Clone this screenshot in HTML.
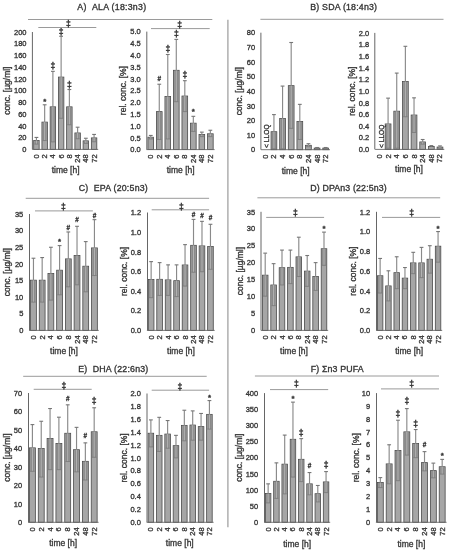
<!DOCTYPE html>
<html><head><meta charset="utf-8"><style>
html,body{margin:0;padding:0;background:#fff;}
svg{display:block;}
text{font-family:"Liberation Sans", Arial, sans-serif;stroke:#383838;stroke-width:0.34px;}
</style></head><body>
<svg width="450" height="550" viewBox="0 0 450 550">
<rect width="450" height="550" fill="#fff"/>
<line x1="227.9" y1="19.7" x2="227.9" y2="527.3" stroke="#a2a2a2" stroke-width="1.3"/>
<line x1="28" y1="19.5" x2="212.3" y2="19.5" stroke="#9a9a9a" stroke-width="1"/>
<text x="77.3" y="10.3" font-size="8.8" fill="#303030" textLength="68.8" lengthAdjust="spacing">A)  ALA (18:3n3)</text>
<line x1="260.4" y1="19.3" x2="443.5" y2="19.3" stroke="#9a9a9a" stroke-width="1"/>
<text x="310.3" y="10.2" font-size="8.8" fill="#303030" textLength="66.7" lengthAdjust="spacing">B) SDA (18:4n3)</text>
<line x1="25.7" y1="198.3" x2="209.1" y2="198.3" stroke="#9a9a9a" stroke-width="1"/>
<text x="78.7" y="191" font-size="8.8" fill="#303030" textLength="69.1" lengthAdjust="spacing">C)  EPA (20:5n3)</text>
<line x1="257.4" y1="197.8" x2="440.2" y2="197.8" stroke="#9a9a9a" stroke-width="1"/>
<text x="310.3" y="191" font-size="8.8" fill="#303030" textLength="76.5" lengthAdjust="spacing">D) DPAn3 (22:5n3)</text>
<line x1="23.2" y1="376.3" x2="206.7" y2="376.3" stroke="#9a9a9a" stroke-width="1"/>
<text x="78.2" y="372.2" font-size="8.8" fill="#303030" textLength="70.1" lengthAdjust="spacing">E)  DHA (22:6n3)</text>
<line x1="254.9" y1="376" x2="439" y2="376" stroke="#9a9a9a" stroke-width="1"/>
<text x="310.8" y="372.2" font-size="8.8" fill="#303030" textLength="52.8" lengthAdjust="spacing">F) Σn3 PUFA</text>
<text x="26.5" y="152.1" font-size="7.5" text-anchor="end" fill="#383838">0</text>
<text x="26.5" y="140.36" font-size="7.5" text-anchor="end" fill="#383838">20</text>
<text x="26.5" y="128.62" font-size="7.5" text-anchor="end" fill="#383838">40</text>
<text x="26.5" y="116.88" font-size="7.5" text-anchor="end" fill="#383838">60</text>
<text x="26.5" y="105.14" font-size="7.5" text-anchor="end" fill="#383838">80</text>
<text x="26.5" y="93.4" font-size="7.5" text-anchor="end" fill="#383838">100</text>
<text x="26.5" y="81.66" font-size="7.5" text-anchor="end" fill="#383838">120</text>
<text x="26.5" y="69.92" font-size="7.5" text-anchor="end" fill="#383838">140</text>
<text x="26.5" y="58.18" font-size="7.5" text-anchor="end" fill="#383838">160</text>
<text x="26.5" y="46.44" font-size="7.5" text-anchor="end" fill="#383838">180</text>
<text x="26.5" y="34.7" font-size="7.5" text-anchor="end" fill="#383838">200</text>
<text transform="translate(38.92,154.4) rotate(-90)" font-size="7.5" text-anchor="end" fill="#383838">0</text>
<rect x="33.69" y="140.42" width="5.46" height="8.98" fill="#a6a6a6" stroke="#4a4a4a" stroke-width="0.8"/>
<rect x="34.59" y="140.82" width="3.66" height="3.3" fill="#8a8a8a"/>
<line x1="36.42" y1="140.42" x2="36.42" y2="144.12" stroke="#b8b8b8" stroke-width="0.9"/>
<line x1="34.29" y1="144.12" x2="38.55" y2="144.12" stroke="#7a7a7a" stroke-width="0.8"/>
<line x1="36.42" y1="137.43" x2="36.42" y2="140.42" stroke="#8a8a8a" stroke-width="1.15"/>
<line x1="34.52" y1="137.43" x2="38.32" y2="137.43" stroke="#767676" stroke-width="1.1"/>
<text transform="translate(47.16,154.4) rotate(-90)" font-size="7.5" text-anchor="end" fill="#383838">2</text>
<rect x="41.93" y="122.1" width="5.46" height="27.3" fill="#a6a6a6" stroke="#4a4a4a" stroke-width="0.8"/>
<rect x="42.83" y="122.5" width="3.66" height="18.03" fill="#8a8a8a"/>
<line x1="44.66" y1="122.1" x2="44.66" y2="140.54" stroke="#b8b8b8" stroke-width="0.9"/>
<line x1="42.53" y1="140.54" x2="46.79" y2="140.54" stroke="#7a7a7a" stroke-width="0.8"/>
<line x1="44.66" y1="104.79" x2="44.66" y2="122.1" stroke="#8a8a8a" stroke-width="1.15"/>
<line x1="42.76" y1="104.79" x2="46.56" y2="104.79" stroke="#767676" stroke-width="1.1"/>
<text x="44.66" y="104.32" font-size="7.8" text-anchor="middle" fill="#303030" font-weight="bold">*</text>
<text transform="translate(55.39,154.4) rotate(-90)" font-size="7.5" text-anchor="end" fill="#383838">4</text>
<rect x="50.16" y="106.84" width="5.46" height="42.56" fill="#a6a6a6" stroke="#4a4a4a" stroke-width="0.8"/>
<rect x="51.06" y="107.24" width="3.66" height="34.64" fill="#8a8a8a"/>
<line x1="52.89" y1="106.84" x2="52.89" y2="141.89" stroke="#b8b8b8" stroke-width="0.9"/>
<line x1="50.76" y1="141.89" x2="55.02" y2="141.89" stroke="#7a7a7a" stroke-width="0.8"/>
<line x1="52.89" y1="71.33" x2="52.89" y2="106.84" stroke="#8a8a8a" stroke-width="1.15"/>
<line x1="50.99" y1="71.33" x2="54.79" y2="71.33" stroke="#767676" stroke-width="1.1"/>
<text x="52.89" y="69.33" font-size="8.6" text-anchor="middle" fill="#303030" font-weight="bold">‡</text>
<text transform="translate(63.63,154.4) rotate(-90)" font-size="7.5" text-anchor="end" fill="#383838">6</text>
<rect x="58.4" y="77.08" width="5.46" height="72.32" fill="#a6a6a6" stroke="#4a4a4a" stroke-width="0.8"/>
<rect x="59.3" y="77.48" width="3.66" height="40.81" fill="#8a8a8a"/>
<line x1="61.13" y1="77.08" x2="61.13" y2="118.29" stroke="#b8b8b8" stroke-width="0.9"/>
<line x1="59" y1="118.29" x2="63.26" y2="118.29" stroke="#7a7a7a" stroke-width="0.8"/>
<line x1="61.13" y1="36.29" x2="61.13" y2="77.08" stroke="#8a8a8a" stroke-width="1.15"/>
<line x1="59.23" y1="36.29" x2="63.03" y2="36.29" stroke="#767676" stroke-width="1.1"/>
<text x="61.13" y="34.73" font-size="8.6" text-anchor="middle" fill="#303030" font-weight="bold">‡</text>
<text transform="translate(71.87,154.4) rotate(-90)" font-size="7.5" text-anchor="end" fill="#383838">8</text>
<rect x="66.64" y="106.84" width="5.46" height="42.56" fill="#a6a6a6" stroke="#4a4a4a" stroke-width="0.8"/>
<rect x="67.54" y="107.24" width="3.66" height="17.5" fill="#8a8a8a"/>
<line x1="69.37" y1="106.84" x2="69.37" y2="124.75" stroke="#b8b8b8" stroke-width="0.9"/>
<line x1="67.24" y1="124.75" x2="71.5" y2="124.75" stroke="#7a7a7a" stroke-width="0.8"/>
<line x1="69.37" y1="89.53" x2="69.37" y2="106.84" stroke="#8a8a8a" stroke-width="1.15"/>
<line x1="67.47" y1="89.53" x2="71.27" y2="89.53" stroke="#767676" stroke-width="1.1"/>
<text x="69.37" y="87.93" font-size="8.6" text-anchor="middle" fill="#303030" font-weight="bold">‡</text>
<text transform="translate(80.11,154.4) rotate(-90)" font-size="7.5" text-anchor="end" fill="#383838">24</text>
<rect x="74.88" y="132.96" width="5.46" height="16.44" fill="#a6a6a6" stroke="#4a4a4a" stroke-width="0.8"/>
<rect x="75.78" y="133.36" width="3.66" height="5.35" fill="#8a8a8a"/>
<line x1="77.61" y1="132.96" x2="77.61" y2="138.72" stroke="#b8b8b8" stroke-width="0.9"/>
<line x1="75.48" y1="138.72" x2="79.74" y2="138.72" stroke="#7a7a7a" stroke-width="0.8"/>
<line x1="77.61" y1="127.21" x2="77.61" y2="132.96" stroke="#8a8a8a" stroke-width="1.15"/>
<line x1="75.71" y1="127.21" x2="79.51" y2="127.21" stroke="#767676" stroke-width="1.1"/>
<text transform="translate(88.34,154.4) rotate(-90)" font-size="7.5" text-anchor="end" fill="#383838">48</text>
<rect x="83.11" y="140.83" width="5.46" height="8.57" fill="#a6a6a6" stroke="#4a4a4a" stroke-width="0.8"/>
<rect x="84.01" y="141.23" width="3.66" height="2.18" fill="#8a8a8a"/>
<line x1="85.84" y1="140.83" x2="85.84" y2="143.41" stroke="#b8b8b8" stroke-width="0.9"/>
<line x1="83.71" y1="143.41" x2="87.97" y2="143.41" stroke="#7a7a7a" stroke-width="0.8"/>
<line x1="85.84" y1="138.25" x2="85.84" y2="140.83" stroke="#8a8a8a" stroke-width="1.15"/>
<line x1="83.94" y1="138.25" x2="87.74" y2="138.25" stroke="#767676" stroke-width="1.1"/>
<text transform="translate(96.58,154.4) rotate(-90)" font-size="7.5" text-anchor="end" fill="#383838">72</text>
<rect x="91.35" y="137.89" width="5.46" height="11.51" fill="#a6a6a6" stroke="#4a4a4a" stroke-width="0.8"/>
<rect x="92.25" y="138.29" width="3.66" height="3.47" fill="#8a8a8a"/>
<line x1="94.08" y1="137.89" x2="94.08" y2="141.77" stroke="#b8b8b8" stroke-width="0.9"/>
<line x1="91.95" y1="141.77" x2="96.21" y2="141.77" stroke="#7a7a7a" stroke-width="0.8"/>
<line x1="94.08" y1="134.43" x2="94.08" y2="137.89" stroke="#8a8a8a" stroke-width="1.15"/>
<line x1="92.18" y1="134.43" x2="95.98" y2="134.43" stroke="#767676" stroke-width="1.1"/>
<line x1="32.4" y1="32" x2="32.4" y2="149.4" stroke="#666666" stroke-width="1"/>
<line x1="32.3" y1="149.4" x2="98.2" y2="149.4" stroke="#6a6a6a" stroke-width="0.9"/>
<line x1="38.3" y1="27.5" x2="96.3" y2="27.5" stroke="#9a9a9a" stroke-width="1"/>
<text x="68.4" y="27.03" font-size="8.6" text-anchor="middle" fill="#303030" font-weight="bold">‡</text>
<text transform="translate(9.6,90.7) rotate(-90)" font-size="8.5" text-anchor="middle" fill="#383838">conc. [µg/ml]</text>
<text x="65.6" y="173.3" font-size="8.5" text-anchor="middle" fill="#383838">time [h]</text>
<text x="140.7" y="152.3" font-size="7.5" text-anchor="end" fill="#383838">0.0</text>
<text x="140.7" y="140.5" font-size="7.5" text-anchor="end" fill="#383838">0.5</text>
<text x="140.7" y="128.7" font-size="7.5" text-anchor="end" fill="#383838">1.0</text>
<text x="140.7" y="116.9" font-size="7.5" text-anchor="end" fill="#383838">1.5</text>
<text x="140.7" y="105.1" font-size="7.5" text-anchor="end" fill="#383838">2.0</text>
<text x="140.7" y="93.3" font-size="7.5" text-anchor="end" fill="#383838">2.5</text>
<text x="140.7" y="81.5" font-size="7.5" text-anchor="end" fill="#383838">3.0</text>
<text x="140.7" y="69.7" font-size="7.5" text-anchor="end" fill="#383838">3.5</text>
<text x="140.7" y="57.9" font-size="7.5" text-anchor="end" fill="#383838">4.0</text>
<text x="140.7" y="46.1" font-size="7.5" text-anchor="end" fill="#383838">4.5</text>
<text x="140.7" y="34.3" font-size="7.5" text-anchor="end" fill="#383838">5.0</text>
<text transform="translate(153.26,154.6) rotate(-90)" font-size="7.5" text-anchor="end" fill="#383838">0</text>
<rect x="147.92" y="137.21" width="5.67" height="12.39" fill="#a6a6a6" stroke="#4a4a4a" stroke-width="0.8"/>
<rect x="148.82" y="137.61" width="3.87" height="1.37" fill="#8a8a8a"/>
<line x1="150.76" y1="137.21" x2="150.76" y2="138.98" stroke="#b8b8b8" stroke-width="0.9"/>
<line x1="148.52" y1="138.98" x2="152.99" y2="138.98" stroke="#7a7a7a" stroke-width="0.8"/>
<line x1="150.76" y1="135.44" x2="150.76" y2="137.21" stroke="#8a8a8a" stroke-width="1.15"/>
<line x1="148.86" y1="135.44" x2="152.66" y2="135.44" stroke="#767676" stroke-width="1.1"/>
<text transform="translate(161.77,154.6) rotate(-90)" font-size="7.5" text-anchor="end" fill="#383838">2</text>
<rect x="156.43" y="111.6" width="5.67" height="38" fill="#a6a6a6" stroke="#4a4a4a" stroke-width="0.8"/>
<rect x="157.33" y="112" width="3.87" height="27.45" fill="#8a8a8a"/>
<line x1="159.27" y1="111.6" x2="159.27" y2="139.45" stroke="#b8b8b8" stroke-width="0.9"/>
<line x1="157.03" y1="139.45" x2="161.5" y2="139.45" stroke="#7a7a7a" stroke-width="0.8"/>
<line x1="159.27" y1="84.23" x2="159.27" y2="111.6" stroke="#8a8a8a" stroke-width="1.15"/>
<line x1="157.37" y1="84.23" x2="161.17" y2="84.23" stroke="#767676" stroke-width="1.1"/>
<text x="159.27" y="80.89" font-size="6.4" text-anchor="middle" fill="#202020" stroke="none">#</text>
<text transform="translate(170.28,154.6) rotate(-90)" font-size="7.5" text-anchor="end" fill="#383838">4</text>
<rect x="164.95" y="96.5" width="5.67" height="53.1" fill="#a6a6a6" stroke="#4a4a4a" stroke-width="0.8"/>
<rect x="165.85" y="96.9" width="3.87" height="42.08" fill="#8a8a8a"/>
<line x1="167.78" y1="96.5" x2="167.78" y2="138.98" stroke="#b8b8b8" stroke-width="0.9"/>
<line x1="165.55" y1="138.98" x2="170.02" y2="138.98" stroke="#7a7a7a" stroke-width="0.8"/>
<line x1="167.78" y1="54.49" x2="167.78" y2="96.5" stroke="#8a8a8a" stroke-width="1.15"/>
<line x1="165.88" y1="54.49" x2="169.68" y2="54.49" stroke="#767676" stroke-width="1.1"/>
<text x="167.78" y="52.13" font-size="8.6" text-anchor="middle" fill="#303030" font-weight="bold">‡</text>
<text transform="translate(178.79,154.6) rotate(-90)" font-size="7.5" text-anchor="end" fill="#383838">6</text>
<rect x="173.46" y="70.3" width="5.67" height="79.3" fill="#a6a6a6" stroke="#4a4a4a" stroke-width="0.8"/>
<rect x="174.36" y="70.7" width="3.87" height="30.99" fill="#8a8a8a"/>
<line x1="176.29" y1="70.3" x2="176.29" y2="101.69" stroke="#b8b8b8" stroke-width="0.9"/>
<line x1="174.06" y1="101.69" x2="178.53" y2="101.69" stroke="#7a7a7a" stroke-width="0.8"/>
<line x1="176.29" y1="39.39" x2="176.29" y2="70.3" stroke="#8a8a8a" stroke-width="1.15"/>
<line x1="174.39" y1="39.39" x2="178.19" y2="39.39" stroke="#767676" stroke-width="1.1"/>
<text x="176.29" y="36.73" font-size="8.6" text-anchor="middle" fill="#303030" font-weight="bold">‡</text>
<text transform="translate(187.31,154.6) rotate(-90)" font-size="7.5" text-anchor="end" fill="#383838">8</text>
<rect x="181.97" y="96.03" width="5.67" height="53.57" fill="#a6a6a6" stroke="#4a4a4a" stroke-width="0.8"/>
<rect x="182.87" y="96.43" width="3.87" height="15.18" fill="#8a8a8a"/>
<line x1="184.81" y1="96.03" x2="184.81" y2="111.6" stroke="#b8b8b8" stroke-width="0.9"/>
<line x1="182.57" y1="111.6" x2="187.04" y2="111.6" stroke="#7a7a7a" stroke-width="0.8"/>
<line x1="184.81" y1="80.69" x2="184.81" y2="96.03" stroke="#8a8a8a" stroke-width="1.15"/>
<line x1="182.91" y1="80.69" x2="186.71" y2="80.69" stroke="#767676" stroke-width="1.1"/>
<text x="184.81" y="77.53" font-size="8.6" text-anchor="middle" fill="#303030" font-weight="bold">‡</text>
<text transform="translate(195.82,154.6) rotate(-90)" font-size="7.5" text-anchor="end" fill="#383838">24</text>
<rect x="190.48" y="123.17" width="5.67" height="26.43" fill="#a6a6a6" stroke="#4a4a4a" stroke-width="0.8"/>
<rect x="191.38" y="123.57" width="3.87" height="7.86" fill="#8a8a8a"/>
<line x1="193.32" y1="123.17" x2="193.32" y2="131.43" stroke="#b8b8b8" stroke-width="0.9"/>
<line x1="191.08" y1="131.43" x2="195.55" y2="131.43" stroke="#7a7a7a" stroke-width="0.8"/>
<line x1="193.32" y1="116.32" x2="193.32" y2="123.17" stroke="#8a8a8a" stroke-width="1.15"/>
<line x1="191.42" y1="116.32" x2="195.22" y2="116.32" stroke="#767676" stroke-width="1.1"/>
<text x="193.32" y="114.12" font-size="7.8" text-anchor="middle" fill="#303030" font-weight="bold">*</text>
<text transform="translate(204.33,154.6) rotate(-90)" font-size="7.5" text-anchor="end" fill="#383838">48</text>
<rect x="199" y="134.5" width="5.67" height="15.1" fill="#a6a6a6" stroke="#4a4a4a" stroke-width="0.8"/>
<rect x="199.9" y="134.9" width="3.87" height="1.72" fill="#8a8a8a"/>
<line x1="201.83" y1="134.5" x2="201.83" y2="136.62" stroke="#b8b8b8" stroke-width="0.9"/>
<line x1="199.6" y1="136.62" x2="204.07" y2="136.62" stroke="#7a7a7a" stroke-width="0.8"/>
<line x1="201.83" y1="132.14" x2="201.83" y2="134.5" stroke="#8a8a8a" stroke-width="1.15"/>
<line x1="199.93" y1="132.14" x2="203.73" y2="132.14" stroke="#767676" stroke-width="1.1"/>
<text transform="translate(212.84,154.6) rotate(-90)" font-size="7.5" text-anchor="end" fill="#383838">72</text>
<rect x="207.51" y="133.79" width="5.67" height="15.81" fill="#a6a6a6" stroke="#4a4a4a" stroke-width="0.8"/>
<rect x="208.41" y="134.19" width="3.87" height="2.43" fill="#8a8a8a"/>
<line x1="210.34" y1="133.79" x2="210.34" y2="136.62" stroke="#b8b8b8" stroke-width="0.9"/>
<line x1="208.11" y1="136.62" x2="212.58" y2="136.62" stroke="#7a7a7a" stroke-width="0.8"/>
<line x1="210.34" y1="130.25" x2="210.34" y2="133.79" stroke="#8a8a8a" stroke-width="1.15"/>
<line x1="208.44" y1="130.25" x2="212.24" y2="130.25" stroke="#767676" stroke-width="1.1"/>
<line x1="146.8" y1="31.6" x2="146.8" y2="149.6" stroke="#666666" stroke-width="1"/>
<line x1="146.5" y1="149.6" x2="214.6" y2="149.6" stroke="#6a6a6a" stroke-width="0.9"/>
<line x1="151" y1="28.6" x2="209.7" y2="28.6" stroke="#9a9a9a" stroke-width="1"/>
<text x="179.6" y="27.83" font-size="8.6" text-anchor="middle" fill="#303030" font-weight="bold">‡</text>
<text transform="translate(126.3,90.6) rotate(-90)" font-size="8.5" text-anchor="middle" fill="#383838">rel. conc. [%]</text>
<text x="180.7" y="173.3" font-size="8.5" text-anchor="middle" fill="#383838">time [h]</text>
<text x="255.2" y="152.4" font-size="7.5" text-anchor="end" fill="#383838">0</text>
<text x="255.2" y="137.77" font-size="7.5" text-anchor="end" fill="#383838">10</text>
<text x="255.2" y="123.15" font-size="7.5" text-anchor="end" fill="#383838">20</text>
<text x="255.2" y="108.52" font-size="7.5" text-anchor="end" fill="#383838">30</text>
<text x="255.2" y="93.9" font-size="7.5" text-anchor="end" fill="#383838">40</text>
<text x="255.2" y="79.27" font-size="7.5" text-anchor="end" fill="#383838">50</text>
<text x="255.2" y="64.65" font-size="7.5" text-anchor="end" fill="#383838">60</text>
<text x="255.2" y="50.02" font-size="7.5" text-anchor="end" fill="#383838">70</text>
<text x="255.2" y="35.4" font-size="7.5" text-anchor="end" fill="#383838">80</text>
<text transform="translate(267.81,154.7) rotate(-90)" font-size="7.5" text-anchor="end" fill="#383838">0</text>
<text transform="translate(276.44,154.7) rotate(-90)" font-size="7.5" text-anchor="end" fill="#383838">2</text>
<rect x="271.06" y="131.71" width="5.75" height="17.99" fill="#a6a6a6" stroke="#4a4a4a" stroke-width="0.8"/>
<rect x="271.96" y="132.11" width="3.96" height="16.71" fill="#8a8a8a"/>
<line x1="273.94" y1="131.71" x2="273.94" y2="148.82" stroke="#b8b8b8" stroke-width="0.9"/>
<line x1="271.66" y1="148.82" x2="276.21" y2="148.82" stroke="#7a7a7a" stroke-width="0.8"/>
<line x1="273.94" y1="114.6" x2="273.94" y2="131.71" stroke="#8a8a8a" stroke-width="1.15"/>
<line x1="272.04" y1="114.6" x2="275.84" y2="114.6" stroke="#767676" stroke-width="1.1"/>
<text transform="translate(285.06,154.7) rotate(-90)" font-size="7.5" text-anchor="end" fill="#383838">4</text>
<rect x="279.69" y="118.4" width="5.75" height="31.3" fill="#a6a6a6" stroke="#4a4a4a" stroke-width="0.8"/>
<rect x="280.58" y="118.8" width="3.96" height="30.02" fill="#8a8a8a"/>
<line x1="282.56" y1="118.4" x2="282.56" y2="148.82" stroke="#b8b8b8" stroke-width="0.9"/>
<line x1="280.29" y1="148.82" x2="284.84" y2="148.82" stroke="#7a7a7a" stroke-width="0.8"/>
<line x1="282.56" y1="86.08" x2="282.56" y2="118.4" stroke="#8a8a8a" stroke-width="1.15"/>
<line x1="280.66" y1="86.08" x2="284.46" y2="86.08" stroke="#767676" stroke-width="1.1"/>
<text transform="translate(293.69,154.7) rotate(-90)" font-size="7.5" text-anchor="end" fill="#383838">6</text>
<rect x="288.31" y="85.64" width="5.75" height="64.06" fill="#a6a6a6" stroke="#4a4a4a" stroke-width="0.8"/>
<rect x="289.21" y="86.04" width="3.96" height="42.3" fill="#8a8a8a"/>
<line x1="291.19" y1="85.64" x2="291.19" y2="128.35" stroke="#b8b8b8" stroke-width="0.9"/>
<line x1="288.91" y1="128.35" x2="293.46" y2="128.35" stroke="#7a7a7a" stroke-width="0.8"/>
<line x1="291.19" y1="42.5" x2="291.19" y2="85.64" stroke="#8a8a8a" stroke-width="1.15"/>
<line x1="289.29" y1="42.5" x2="293.09" y2="42.5" stroke="#767676" stroke-width="1.1"/>
<text transform="translate(302.31,154.7) rotate(-90)" font-size="7.5" text-anchor="end" fill="#383838">8</text>
<rect x="296.94" y="121.47" width="5.75" height="28.23" fill="#a6a6a6" stroke="#4a4a4a" stroke-width="0.8"/>
<rect x="297.83" y="121.87" width="3.96" height="17.59" fill="#8a8a8a"/>
<line x1="299.81" y1="121.47" x2="299.81" y2="139.46" stroke="#b8b8b8" stroke-width="0.9"/>
<line x1="297.54" y1="139.46" x2="302.09" y2="139.46" stroke="#7a7a7a" stroke-width="0.8"/>
<line x1="299.81" y1="104.36" x2="299.81" y2="121.47" stroke="#8a8a8a" stroke-width="1.15"/>
<line x1="297.91" y1="104.36" x2="301.71" y2="104.36" stroke="#767676" stroke-width="1.1"/>
<text transform="translate(310.94,154.7) rotate(-90)" font-size="7.5" text-anchor="end" fill="#383838">24</text>
<rect x="305.56" y="145.31" width="5.75" height="4.39" fill="#a6a6a6" stroke="#4a4a4a" stroke-width="0.8"/>
<rect x="306.46" y="145.71" width="3.96" height="1.06" fill="#8a8a8a"/>
<line x1="308.44" y1="145.31" x2="308.44" y2="146.77" stroke="#b8b8b8" stroke-width="0.9"/>
<line x1="306.16" y1="146.77" x2="310.71" y2="146.77" stroke="#7a7a7a" stroke-width="0.8"/>
<line x1="308.44" y1="143.7" x2="308.44" y2="145.31" stroke="#8a8a8a" stroke-width="1.15"/>
<line x1="306.54" y1="143.7" x2="310.34" y2="143.7" stroke="#767676" stroke-width="1.1"/>
<text transform="translate(319.56,154.7) rotate(-90)" font-size="7.5" text-anchor="end" fill="#383838">48</text>
<rect x="314.19" y="148.09" width="5.75" height="1.61" fill="#a6a6a6" stroke="#4a4a4a" stroke-width="0.8"/>
<line x1="317.06" y1="147.51" x2="317.06" y2="148.09" stroke="#8a8a8a" stroke-width="1.15"/>
<line x1="315.16" y1="147.51" x2="318.96" y2="147.51" stroke="#767676" stroke-width="1.1"/>
<text transform="translate(328.19,154.7) rotate(-90)" font-size="7.5" text-anchor="end" fill="#383838">72</text>
<rect x="322.81" y="148.09" width="5.75" height="1.61" fill="#a6a6a6" stroke="#4a4a4a" stroke-width="0.8"/>
<line x1="325.69" y1="147.51" x2="325.69" y2="148.09" stroke="#8a8a8a" stroke-width="1.15"/>
<line x1="323.79" y1="147.51" x2="327.59" y2="147.51" stroke="#767676" stroke-width="1.1"/>
<line x1="260.9" y1="32.7" x2="260.9" y2="149.7" stroke="#666666" stroke-width="1"/>
<line x1="261" y1="149.7" x2="330" y2="149.7" stroke="#6a6a6a" stroke-width="0.9"/>
<text transform="translate(268.7,147.9) rotate(-90)" font-size="6.7" fill="#383838">&lt; LLOQ</text>
<text transform="translate(242.4,91.2) rotate(-90)" font-size="8.5" text-anchor="middle" fill="#383838">conc. [µg/ml]</text>
<text x="295.7" y="173.6" font-size="8.5" text-anchor="middle" fill="#383838">time [h]</text>
<text x="369.3" y="152.1" font-size="7.5" text-anchor="end" fill="#383838">0.0</text>
<text x="369.3" y="140.45" font-size="7.5" text-anchor="end" fill="#383838">0.2</text>
<text x="369.3" y="128.8" font-size="7.5" text-anchor="end" fill="#383838">0.4</text>
<text x="369.3" y="117.15" font-size="7.5" text-anchor="end" fill="#383838">0.6</text>
<text x="369.3" y="105.5" font-size="7.5" text-anchor="end" fill="#383838">0.8</text>
<text x="369.3" y="93.85" font-size="7.5" text-anchor="end" fill="#383838">1.0</text>
<text x="369.3" y="82.2" font-size="7.5" text-anchor="end" fill="#383838">1.2</text>
<text x="369.3" y="70.55" font-size="7.5" text-anchor="end" fill="#383838">1.4</text>
<text x="369.3" y="58.9" font-size="7.5" text-anchor="end" fill="#383838">1.6</text>
<text x="369.3" y="47.25" font-size="7.5" text-anchor="end" fill="#383838">1.8</text>
<text x="369.3" y="35.6" font-size="7.5" text-anchor="end" fill="#383838">2.0</text>
<text transform="translate(381.93,154.4) rotate(-90)" font-size="7.5" text-anchor="end" fill="#383838">0</text>
<text transform="translate(390.58,154.4) rotate(-90)" font-size="7.5" text-anchor="end" fill="#383838">2</text>
<rect x="385.19" y="123.94" width="5.77" height="25.46" fill="#a6a6a6" stroke="#4a4a4a" stroke-width="0.8"/>
<rect x="386.09" y="124.34" width="3.97" height="23.89" fill="#8a8a8a"/>
<line x1="388.08" y1="123.94" x2="388.08" y2="148.24" stroke="#b8b8b8" stroke-width="0.9"/>
<line x1="385.79" y1="148.24" x2="390.36" y2="148.24" stroke="#7a7a7a" stroke-width="0.8"/>
<line x1="388.08" y1="98.14" x2="388.08" y2="123.94" stroke="#8a8a8a" stroke-width="1.15"/>
<line x1="386.18" y1="98.14" x2="389.98" y2="98.14" stroke="#767676" stroke-width="1.1"/>
<text transform="translate(399.23,154.4) rotate(-90)" font-size="7.5" text-anchor="end" fill="#383838">4</text>
<rect x="393.84" y="111.19" width="5.77" height="38.21" fill="#a6a6a6" stroke="#4a4a4a" stroke-width="0.8"/>
<rect x="394.74" y="111.59" width="3.97" height="36.65" fill="#8a8a8a"/>
<line x1="396.73" y1="111.19" x2="396.73" y2="148.24" stroke="#b8b8b8" stroke-width="0.9"/>
<line x1="394.44" y1="148.24" x2="399.01" y2="148.24" stroke="#7a7a7a" stroke-width="0.8"/>
<line x1="396.73" y1="73.09" x2="396.73" y2="111.19" stroke="#8a8a8a" stroke-width="1.15"/>
<line x1="394.83" y1="73.09" x2="398.62" y2="73.09" stroke="#767676" stroke-width="1.1"/>
<text transform="translate(407.88,154.4) rotate(-90)" font-size="7.5" text-anchor="end" fill="#383838">6</text>
<rect x="402.49" y="81.42" width="5.77" height="67.98" fill="#a6a6a6" stroke="#4a4a4a" stroke-width="0.8"/>
<rect x="403.39" y="81.82" width="3.97" height="34.96" fill="#8a8a8a"/>
<line x1="405.38" y1="81.42" x2="405.38" y2="116.78" stroke="#b8b8b8" stroke-width="0.9"/>
<line x1="403.09" y1="116.78" x2="407.66" y2="116.78" stroke="#7a7a7a" stroke-width="0.8"/>
<line x1="405.38" y1="46.3" x2="405.38" y2="81.42" stroke="#8a8a8a" stroke-width="1.15"/>
<line x1="403.48" y1="46.3" x2="407.27" y2="46.3" stroke="#767676" stroke-width="1.1"/>
<text transform="translate(416.53,154.4) rotate(-90)" font-size="7.5" text-anchor="end" fill="#383838">8</text>
<rect x="411.14" y="115.03" width="5.77" height="34.37" fill="#a6a6a6" stroke="#4a4a4a" stroke-width="0.8"/>
<rect x="412.04" y="115.43" width="3.97" height="17.07" fill="#8a8a8a"/>
<line x1="414.03" y1="115.03" x2="414.03" y2="132.51" stroke="#b8b8b8" stroke-width="0.9"/>
<line x1="411.74" y1="132.51" x2="416.31" y2="132.51" stroke="#7a7a7a" stroke-width="0.8"/>
<line x1="414.03" y1="97.85" x2="414.03" y2="115.03" stroke="#8a8a8a" stroke-width="1.15"/>
<line x1="412.13" y1="97.85" x2="415.93" y2="97.85" stroke="#767676" stroke-width="1.1"/>
<text transform="translate(425.18,154.4) rotate(-90)" font-size="7.5" text-anchor="end" fill="#383838">24</text>
<rect x="419.79" y="141.94" width="5.77" height="7.46" fill="#a6a6a6" stroke="#4a4a4a" stroke-width="0.8"/>
<rect x="420.69" y="142.34" width="3.97" height="1.81" fill="#8a8a8a"/>
<line x1="422.68" y1="141.94" x2="422.68" y2="144.16" stroke="#b8b8b8" stroke-width="0.9"/>
<line x1="420.39" y1="144.16" x2="424.96" y2="144.16" stroke="#7a7a7a" stroke-width="0.8"/>
<line x1="422.68" y1="139.5" x2="422.68" y2="141.94" stroke="#8a8a8a" stroke-width="1.15"/>
<line x1="420.78" y1="139.5" x2="424.57" y2="139.5" stroke="#767676" stroke-width="1.1"/>
<text transform="translate(433.83,154.4) rotate(-90)" font-size="7.5" text-anchor="end" fill="#383838">48</text>
<rect x="428.44" y="146.49" width="5.77" height="2.91" fill="#a6a6a6" stroke="#4a4a4a" stroke-width="0.8"/>
<line x1="431.33" y1="145.61" x2="431.33" y2="146.49" stroke="#8a8a8a" stroke-width="1.15"/>
<line x1="429.43" y1="145.61" x2="433.23" y2="145.61" stroke="#767676" stroke-width="1.1"/>
<text transform="translate(442.48,154.4) rotate(-90)" font-size="7.5" text-anchor="end" fill="#383838">72</text>
<rect x="437.09" y="147.07" width="5.77" height="2.33" fill="#a6a6a6" stroke="#4a4a4a" stroke-width="0.8"/>
<rect x="437.99" y="147.47" width="3.97" height="0.77" fill="#8a8a8a"/>
<line x1="439.98" y1="147.07" x2="439.98" y2="148.24" stroke="#b8b8b8" stroke-width="0.9"/>
<line x1="437.69" y1="148.24" x2="442.26" y2="148.24" stroke="#7a7a7a" stroke-width="0.8"/>
<line x1="439.98" y1="145.91" x2="439.98" y2="147.07" stroke="#8a8a8a" stroke-width="1.15"/>
<line x1="438.08" y1="145.91" x2="441.88" y2="145.91" stroke="#767676" stroke-width="1.1"/>
<line x1="374.8" y1="32.9" x2="374.8" y2="149.4" stroke="#666666" stroke-width="1"/>
<line x1="375.1" y1="149.4" x2="444.3" y2="149.4" stroke="#6a6a6a" stroke-width="0.9"/>
<text transform="translate(383.6,148.1) rotate(-90)" font-size="6.7" fill="#383838">&lt; LLOQ</text>
<text transform="translate(354.6,91.15) rotate(-90)" font-size="8.5" text-anchor="middle" fill="#383838">rel. conc. [%]</text>
<text x="409" y="172" font-size="8.5" text-anchor="middle" fill="#383838">time [h]</text>
<text x="23.3" y="333.1" font-size="7.5" text-anchor="end" fill="#383838">0</text>
<text x="23.3" y="316.47" font-size="7.5" text-anchor="end" fill="#383838">5</text>
<text x="23.3" y="299.84" font-size="7.5" text-anchor="end" fill="#383838">10</text>
<text x="23.3" y="283.21" font-size="7.5" text-anchor="end" fill="#383838">15</text>
<text x="23.3" y="266.59" font-size="7.5" text-anchor="end" fill="#383838">20</text>
<text x="23.3" y="249.96" font-size="7.5" text-anchor="end" fill="#383838">25</text>
<text x="23.3" y="233.33" font-size="7.5" text-anchor="end" fill="#383838">30</text>
<text x="23.3" y="216.7" font-size="7.5" text-anchor="end" fill="#383838">35</text>
<text transform="translate(35.96,335.4) rotate(-90)" font-size="7.5" text-anchor="end" fill="#383838">0</text>
<rect x="30.55" y="280.18" width="5.82" height="50.22" fill="#a6a6a6" stroke="#4a4a4a" stroke-width="0.8"/>
<rect x="31.45" y="280.58" width="4.02" height="21.55" fill="#8a8a8a"/>
<line x1="33.46" y1="280.18" x2="33.46" y2="302.13" stroke="#b8b8b8" stroke-width="0.9"/>
<line x1="31.15" y1="302.13" x2="35.77" y2="302.13" stroke="#7a7a7a" stroke-width="0.8"/>
<line x1="33.46" y1="258.23" x2="33.46" y2="280.18" stroke="#8a8a8a" stroke-width="1.15"/>
<line x1="31.56" y1="258.23" x2="35.36" y2="258.23" stroke="#767676" stroke-width="1.1"/>
<text transform="translate(44.67,335.4) rotate(-90)" font-size="7.5" text-anchor="end" fill="#383838">2</text>
<rect x="39.26" y="280.18" width="5.82" height="50.22" fill="#a6a6a6" stroke="#4a4a4a" stroke-width="0.8"/>
<rect x="40.16" y="280.58" width="4.02" height="21.55" fill="#8a8a8a"/>
<line x1="42.17" y1="280.18" x2="42.17" y2="302.13" stroke="#b8b8b8" stroke-width="0.9"/>
<line x1="39.86" y1="302.13" x2="44.48" y2="302.13" stroke="#7a7a7a" stroke-width="0.8"/>
<line x1="42.17" y1="257.57" x2="42.17" y2="280.18" stroke="#8a8a8a" stroke-width="1.15"/>
<line x1="40.27" y1="257.57" x2="44.07" y2="257.57" stroke="#767676" stroke-width="1.1"/>
<text transform="translate(53.38,335.4) rotate(-90)" font-size="7.5" text-anchor="end" fill="#383838">4</text>
<rect x="47.97" y="273.53" width="5.82" height="56.87" fill="#a6a6a6" stroke="#4a4a4a" stroke-width="0.8"/>
<rect x="48.87" y="273.93" width="4.02" height="26.21" fill="#8a8a8a"/>
<line x1="50.88" y1="273.53" x2="50.88" y2="300.14" stroke="#b8b8b8" stroke-width="0.9"/>
<line x1="48.57" y1="300.14" x2="53.19" y2="300.14" stroke="#7a7a7a" stroke-width="0.8"/>
<line x1="50.88" y1="247.26" x2="50.88" y2="273.53" stroke="#8a8a8a" stroke-width="1.15"/>
<line x1="48.98" y1="247.26" x2="52.78" y2="247.26" stroke="#767676" stroke-width="1.1"/>
<text transform="translate(62.09,335.4) rotate(-90)" font-size="7.5" text-anchor="end" fill="#383838">6</text>
<rect x="56.68" y="270.2" width="5.82" height="60.2" fill="#a6a6a6" stroke="#4a4a4a" stroke-width="0.8"/>
<rect x="57.58" y="270.6" width="4.02" height="24.21" fill="#8a8a8a"/>
<line x1="59.59" y1="270.2" x2="59.59" y2="294.81" stroke="#b8b8b8" stroke-width="0.9"/>
<line x1="57.28" y1="294.81" x2="61.9" y2="294.81" stroke="#7a7a7a" stroke-width="0.8"/>
<line x1="59.59" y1="245.59" x2="59.59" y2="270.2" stroke="#8a8a8a" stroke-width="1.15"/>
<line x1="57.69" y1="245.59" x2="61.49" y2="245.59" stroke="#767676" stroke-width="1.1"/>
<text x="59.59" y="243.82" font-size="7.8" text-anchor="middle" fill="#303030" font-weight="bold">*</text>
<text transform="translate(70.81,335.4) rotate(-90)" font-size="7.5" text-anchor="end" fill="#383838">8</text>
<rect x="65.4" y="258.9" width="5.82" height="71.5" fill="#a6a6a6" stroke="#4a4a4a" stroke-width="0.8"/>
<rect x="66.3" y="259.3" width="4.02" height="27.54" fill="#8a8a8a"/>
<line x1="68.31" y1="258.9" x2="68.31" y2="286.83" stroke="#b8b8b8" stroke-width="0.9"/>
<line x1="66" y1="286.83" x2="70.62" y2="286.83" stroke="#7a7a7a" stroke-width="0.8"/>
<line x1="68.31" y1="231.96" x2="68.31" y2="258.9" stroke="#8a8a8a" stroke-width="1.15"/>
<line x1="66.41" y1="231.96" x2="70.21" y2="231.96" stroke="#767676" stroke-width="1.1"/>
<text x="68.31" y="229.79" font-size="6.4" text-anchor="middle" fill="#202020" stroke="none">#</text>
<text transform="translate(79.52,335.4) rotate(-90)" font-size="7.5" text-anchor="end" fill="#383838">24</text>
<rect x="74.11" y="255.57" width="5.82" height="74.83" fill="#a6a6a6" stroke="#4a4a4a" stroke-width="0.8"/>
<rect x="75.01" y="255.97" width="4.02" height="28.87" fill="#8a8a8a"/>
<line x1="77.02" y1="255.57" x2="77.02" y2="284.84" stroke="#b8b8b8" stroke-width="0.9"/>
<line x1="74.71" y1="284.84" x2="79.33" y2="284.84" stroke="#7a7a7a" stroke-width="0.8"/>
<line x1="77.02" y1="226.31" x2="77.02" y2="255.57" stroke="#8a8a8a" stroke-width="1.15"/>
<line x1="75.12" y1="226.31" x2="78.92" y2="226.31" stroke="#767676" stroke-width="1.1"/>
<text x="77.02" y="222.49" font-size="6.4" text-anchor="middle" fill="#202020" stroke="none">#</text>
<text transform="translate(88.23,335.4) rotate(-90)" font-size="7.5" text-anchor="end" fill="#383838">48</text>
<rect x="82.82" y="266.21" width="5.82" height="64.19" fill="#a6a6a6" stroke="#4a4a4a" stroke-width="0.8"/>
<rect x="83.72" y="266.61" width="4.02" height="25.21" fill="#8a8a8a"/>
<line x1="85.73" y1="266.21" x2="85.73" y2="291.82" stroke="#b8b8b8" stroke-width="0.9"/>
<line x1="83.42" y1="291.82" x2="88.04" y2="291.82" stroke="#7a7a7a" stroke-width="0.8"/>
<line x1="85.73" y1="241.6" x2="85.73" y2="266.21" stroke="#8a8a8a" stroke-width="1.15"/>
<line x1="83.83" y1="241.6" x2="87.63" y2="241.6" stroke="#767676" stroke-width="1.1"/>
<text transform="translate(96.94,335.4) rotate(-90)" font-size="7.5" text-anchor="end" fill="#383838">72</text>
<rect x="91.53" y="247.92" width="5.82" height="82.48" fill="#a6a6a6" stroke="#4a4a4a" stroke-width="0.8"/>
<rect x="92.43" y="248.32" width="4.02" height="27.2" fill="#8a8a8a"/>
<line x1="94.44" y1="247.92" x2="94.44" y2="275.53" stroke="#b8b8b8" stroke-width="0.9"/>
<line x1="92.13" y1="275.53" x2="96.75" y2="275.53" stroke="#7a7a7a" stroke-width="0.8"/>
<line x1="94.44" y1="219.65" x2="94.44" y2="247.92" stroke="#8a8a8a" stroke-width="1.15"/>
<line x1="92.54" y1="219.65" x2="96.34" y2="219.65" stroke="#767676" stroke-width="1.1"/>
<text x="94.44" y="217.69" font-size="6.4" text-anchor="middle" fill="#202020" stroke="none">#</text>
<line x1="29.5" y1="214" x2="29.5" y2="330.4" stroke="#666666" stroke-width="1"/>
<line x1="29.1" y1="330.4" x2="98.8" y2="330.4" stroke="#6a6a6a" stroke-width="0.9"/>
<line x1="35" y1="210.9" x2="92.9" y2="210.9" stroke="#9a9a9a" stroke-width="1"/>
<text x="63.4" y="210.03" font-size="8.6" text-anchor="middle" fill="#303030" font-weight="bold">‡</text>
<text transform="translate(10.3,272.2) rotate(-90)" font-size="8.5" text-anchor="middle" fill="#383838">conc. [µg/ml]</text>
<text x="64" y="353.5" font-size="8.5" text-anchor="middle" fill="#383838">time [h]</text>
<text x="141.1" y="333.1" font-size="7.5" text-anchor="end" fill="#383838">0.0</text>
<text x="141.1" y="313.45" font-size="7.5" text-anchor="end" fill="#383838">0.2</text>
<text x="141.1" y="293.8" font-size="7.5" text-anchor="end" fill="#383838">0.4</text>
<text x="141.1" y="274.15" font-size="7.5" text-anchor="end" fill="#383838">0.6</text>
<text x="141.1" y="254.5" font-size="7.5" text-anchor="end" fill="#383838">0.8</text>
<text x="141.1" y="234.85" font-size="7.5" text-anchor="end" fill="#383838">1.0</text>
<text x="141.1" y="215.2" font-size="7.5" text-anchor="end" fill="#383838">1.2</text>
<text transform="translate(153.64,335.4) rotate(-90)" font-size="7.5" text-anchor="end" fill="#383838">0</text>
<rect x="148.32" y="279.41" width="5.64" height="50.99" fill="#a6a6a6" stroke="#4a4a4a" stroke-width="0.8"/>
<rect x="149.22" y="279.81" width="3.84" height="17.87" fill="#8a8a8a"/>
<line x1="151.14" y1="279.41" x2="151.14" y2="297.68" stroke="#b8b8b8" stroke-width="0.9"/>
<line x1="148.92" y1="297.68" x2="153.36" y2="297.68" stroke="#7a7a7a" stroke-width="0.8"/>
<line x1="151.14" y1="261.62" x2="151.14" y2="279.41" stroke="#8a8a8a" stroke-width="1.15"/>
<line x1="149.24" y1="261.62" x2="153.04" y2="261.62" stroke="#767676" stroke-width="1.1"/>
<text transform="translate(162.11,335.4) rotate(-90)" font-size="7.5" text-anchor="end" fill="#383838">2</text>
<rect x="156.79" y="279.31" width="5.64" height="51.09" fill="#a6a6a6" stroke="#4a4a4a" stroke-width="0.8"/>
<rect x="157.69" y="279.71" width="3.84" height="15.71" fill="#8a8a8a"/>
<line x1="159.61" y1="279.31" x2="159.61" y2="295.42" stroke="#b8b8b8" stroke-width="0.9"/>
<line x1="157.39" y1="295.42" x2="161.83" y2="295.42" stroke="#7a7a7a" stroke-width="0.8"/>
<line x1="159.61" y1="262.61" x2="159.61" y2="279.31" stroke="#8a8a8a" stroke-width="1.15"/>
<line x1="157.71" y1="262.61" x2="161.51" y2="262.61" stroke="#767676" stroke-width="1.1"/>
<text transform="translate(170.59,335.4) rotate(-90)" font-size="7.5" text-anchor="end" fill="#383838">4</text>
<rect x="165.27" y="279.9" width="5.64" height="50.5" fill="#a6a6a6" stroke="#4a4a4a" stroke-width="0.8"/>
<rect x="166.17" y="280.3" width="3.84" height="15.12" fill="#8a8a8a"/>
<line x1="168.09" y1="279.9" x2="168.09" y2="295.42" stroke="#b8b8b8" stroke-width="0.9"/>
<line x1="165.87" y1="295.42" x2="170.31" y2="295.42" stroke="#7a7a7a" stroke-width="0.8"/>
<line x1="168.09" y1="264.87" x2="168.09" y2="279.9" stroke="#8a8a8a" stroke-width="1.15"/>
<line x1="166.19" y1="264.87" x2="169.99" y2="264.87" stroke="#767676" stroke-width="1.1"/>
<text transform="translate(179.06,335.4) rotate(-90)" font-size="7.5" text-anchor="end" fill="#383838">6</text>
<rect x="173.74" y="280.69" width="5.64" height="49.71" fill="#a6a6a6" stroke="#4a4a4a" stroke-width="0.8"/>
<rect x="174.64" y="281.09" width="3.84" height="15.52" fill="#8a8a8a"/>
<line x1="176.56" y1="280.69" x2="176.56" y2="296.6" stroke="#b8b8b8" stroke-width="0.9"/>
<line x1="174.34" y1="296.6" x2="178.78" y2="296.6" stroke="#7a7a7a" stroke-width="0.8"/>
<line x1="176.56" y1="264.87" x2="176.56" y2="280.69" stroke="#8a8a8a" stroke-width="1.15"/>
<line x1="174.66" y1="264.87" x2="178.46" y2="264.87" stroke="#767676" stroke-width="1.1"/>
<text transform="translate(187.54,335.4) rotate(-90)" font-size="7.5" text-anchor="end" fill="#383838">8</text>
<rect x="182.22" y="264.97" width="5.64" height="65.43" fill="#a6a6a6" stroke="#4a4a4a" stroke-width="0.8"/>
<rect x="183.12" y="265.37" width="3.84" height="20.72" fill="#8a8a8a"/>
<line x1="185.04" y1="264.97" x2="185.04" y2="286.09" stroke="#b8b8b8" stroke-width="0.9"/>
<line x1="182.82" y1="286.09" x2="187.26" y2="286.09" stroke="#7a7a7a" stroke-width="0.8"/>
<line x1="185.04" y1="244.63" x2="185.04" y2="264.97" stroke="#8a8a8a" stroke-width="1.15"/>
<line x1="183.14" y1="244.63" x2="186.94" y2="244.63" stroke="#767676" stroke-width="1.1"/>
<text transform="translate(196.01,335.4) rotate(-90)" font-size="7.5" text-anchor="end" fill="#383838">24</text>
<rect x="190.69" y="245.32" width="5.64" height="85.08" fill="#a6a6a6" stroke="#4a4a4a" stroke-width="0.8"/>
<rect x="191.59" y="245.72" width="3.84" height="26.52" fill="#8a8a8a"/>
<line x1="193.51" y1="245.32" x2="193.51" y2="272.24" stroke="#b8b8b8" stroke-width="0.9"/>
<line x1="191.29" y1="272.24" x2="195.73" y2="272.24" stroke="#7a7a7a" stroke-width="0.8"/>
<line x1="193.51" y1="219.38" x2="193.51" y2="245.32" stroke="#8a8a8a" stroke-width="1.15"/>
<line x1="191.61" y1="219.38" x2="195.41" y2="219.38" stroke="#767676" stroke-width="1.1"/>
<text x="193.51" y="216.89" font-size="6.4" text-anchor="middle" fill="#202020" stroke="none">#</text>
<text transform="translate(204.49,335.4) rotate(-90)" font-size="7.5" text-anchor="end" fill="#383838">48</text>
<rect x="199.17" y="245.9" width="5.64" height="84.5" fill="#a6a6a6" stroke="#4a4a4a" stroke-width="0.8"/>
<rect x="200.07" y="246.3" width="3.84" height="25.44" fill="#8a8a8a"/>
<line x1="201.99" y1="245.9" x2="201.99" y2="271.74" stroke="#b8b8b8" stroke-width="0.9"/>
<line x1="199.77" y1="271.74" x2="204.21" y2="271.74" stroke="#7a7a7a" stroke-width="0.8"/>
<line x1="201.99" y1="221.34" x2="201.99" y2="245.9" stroke="#8a8a8a" stroke-width="1.15"/>
<line x1="200.09" y1="221.34" x2="203.89" y2="221.34" stroke="#767676" stroke-width="1.1"/>
<text x="201.99" y="218.39" font-size="6.4" text-anchor="middle" fill="#202020" stroke="none">#</text>
<text transform="translate(212.96,335.4) rotate(-90)" font-size="7.5" text-anchor="end" fill="#383838">72</text>
<rect x="207.64" y="246.4" width="5.64" height="84" fill="#a6a6a6" stroke="#4a4a4a" stroke-width="0.8"/>
<rect x="208.54" y="246.8" width="3.84" height="22.49" fill="#8a8a8a"/>
<line x1="210.46" y1="246.4" x2="210.46" y2="269.29" stroke="#b8b8b8" stroke-width="0.9"/>
<line x1="208.24" y1="269.29" x2="212.68" y2="269.29" stroke="#7a7a7a" stroke-width="0.8"/>
<line x1="210.46" y1="224.29" x2="210.46" y2="246.4" stroke="#8a8a8a" stroke-width="1.15"/>
<line x1="208.56" y1="224.29" x2="212.36" y2="224.29" stroke="#767676" stroke-width="1.1"/>
<text x="210.46" y="220.09" font-size="6.4" text-anchor="middle" fill="#202020" stroke="none">#</text>
<line x1="147.5" y1="212.5" x2="147.5" y2="330.4" stroke="#666666" stroke-width="1"/>
<line x1="146.9" y1="330.4" x2="214.7" y2="330.4" stroke="#6a6a6a" stroke-width="0.9"/>
<line x1="151.7" y1="209.8" x2="209.1" y2="209.8" stroke="#9a9a9a" stroke-width="1"/>
<text x="181.5" y="209.53" font-size="8.6" text-anchor="middle" fill="#303030" font-weight="bold">‡</text>
<text transform="translate(127,271.45) rotate(-90)" font-size="8.5" text-anchor="middle" fill="#383838">rel. conc. [%]</text>
<text x="181" y="353.5" font-size="8.5" text-anchor="middle" fill="#383838">time [h]</text>
<text x="255.2" y="333.1" font-size="7.5" text-anchor="end" fill="#383838">0</text>
<text x="255.2" y="316.16" font-size="7.5" text-anchor="end" fill="#383838">5</text>
<text x="255.2" y="299.21" font-size="7.5" text-anchor="end" fill="#383838">10</text>
<text x="255.2" y="282.27" font-size="7.5" text-anchor="end" fill="#383838">15</text>
<text x="255.2" y="265.33" font-size="7.5" text-anchor="end" fill="#383838">20</text>
<text x="255.2" y="248.39" font-size="7.5" text-anchor="end" fill="#383838">25</text>
<text x="255.2" y="231.44" font-size="7.5" text-anchor="end" fill="#383838">30</text>
<text x="255.2" y="214.5" font-size="7.5" text-anchor="end" fill="#383838">35</text>
<text transform="translate(267.7,335.4) rotate(-90)" font-size="7.5" text-anchor="end" fill="#383838">0</text>
<rect x="262.41" y="275.17" width="5.58" height="55.23" fill="#a6a6a6" stroke="#4a4a4a" stroke-width="0.8"/>
<rect x="263.31" y="275.57" width="3.78" height="20.61" fill="#8a8a8a"/>
<line x1="265.2" y1="275.17" x2="265.2" y2="296.18" stroke="#b8b8b8" stroke-width="0.9"/>
<line x1="263.01" y1="296.18" x2="267.39" y2="296.18" stroke="#7a7a7a" stroke-width="0.8"/>
<line x1="265.2" y1="253.14" x2="265.2" y2="275.17" stroke="#8a8a8a" stroke-width="1.15"/>
<line x1="263.3" y1="253.14" x2="267.1" y2="253.14" stroke="#767676" stroke-width="1.1"/>
<text transform="translate(276.1,335.4) rotate(-90)" font-size="7.5" text-anchor="end" fill="#383838">2</text>
<rect x="270.81" y="284.99" width="5.58" height="45.41" fill="#a6a6a6" stroke="#4a4a4a" stroke-width="0.8"/>
<rect x="271.71" y="285.39" width="3.78" height="20.27" fill="#8a8a8a"/>
<line x1="273.6" y1="284.99" x2="273.6" y2="305.66" stroke="#b8b8b8" stroke-width="0.9"/>
<line x1="271.41" y1="305.66" x2="275.79" y2="305.66" stroke="#7a7a7a" stroke-width="0.8"/>
<line x1="273.6" y1="263.65" x2="273.6" y2="284.99" stroke="#8a8a8a" stroke-width="1.15"/>
<line x1="271.7" y1="263.65" x2="275.5" y2="263.65" stroke="#767676" stroke-width="1.1"/>
<text transform="translate(284.5,335.4) rotate(-90)" font-size="7.5" text-anchor="end" fill="#383838">4</text>
<rect x="279.21" y="267.71" width="5.58" height="62.69" fill="#a6a6a6" stroke="#4a4a4a" stroke-width="0.8"/>
<rect x="280.11" y="268.11" width="3.78" height="16.88" fill="#8a8a8a"/>
<line x1="282" y1="267.71" x2="282" y2="284.99" stroke="#b8b8b8" stroke-width="0.9"/>
<line x1="279.81" y1="284.99" x2="284.19" y2="284.99" stroke="#7a7a7a" stroke-width="0.8"/>
<line x1="282" y1="250.09" x2="282" y2="267.71" stroke="#8a8a8a" stroke-width="1.15"/>
<line x1="280.1" y1="250.09" x2="283.9" y2="250.09" stroke="#767676" stroke-width="1.1"/>
<text transform="translate(292.9,335.4) rotate(-90)" font-size="7.5" text-anchor="end" fill="#383838">6</text>
<rect x="287.61" y="267.37" width="5.58" height="63.03" fill="#a6a6a6" stroke="#4a4a4a" stroke-width="0.8"/>
<rect x="288.51" y="267.77" width="3.78" height="15.87" fill="#8a8a8a"/>
<line x1="290.4" y1="267.37" x2="290.4" y2="283.64" stroke="#b8b8b8" stroke-width="0.9"/>
<line x1="288.21" y1="283.64" x2="292.59" y2="283.64" stroke="#7a7a7a" stroke-width="0.8"/>
<line x1="290.4" y1="250.09" x2="290.4" y2="267.37" stroke="#8a8a8a" stroke-width="1.15"/>
<line x1="288.5" y1="250.09" x2="292.3" y2="250.09" stroke="#767676" stroke-width="1.1"/>
<text transform="translate(301.3,335.4) rotate(-90)" font-size="7.5" text-anchor="end" fill="#383838">8</text>
<rect x="296.01" y="256.87" width="5.58" height="73.53" fill="#a6a6a6" stroke="#4a4a4a" stroke-width="0.8"/>
<rect x="296.91" y="257.27" width="3.78" height="19.25" fill="#8a8a8a"/>
<line x1="298.8" y1="256.87" x2="298.8" y2="276.52" stroke="#b8b8b8" stroke-width="0.9"/>
<line x1="296.61" y1="276.52" x2="300.99" y2="276.52" stroke="#7a7a7a" stroke-width="0.8"/>
<line x1="298.8" y1="237.21" x2="298.8" y2="256.87" stroke="#8a8a8a" stroke-width="1.15"/>
<line x1="296.9" y1="237.21" x2="300.7" y2="237.21" stroke="#767676" stroke-width="1.1"/>
<text transform="translate(309.7,335.4) rotate(-90)" font-size="7.5" text-anchor="end" fill="#383838">24</text>
<rect x="304.41" y="271.1" width="5.58" height="59.3" fill="#a6a6a6" stroke="#4a4a4a" stroke-width="0.8"/>
<rect x="305.31" y="271.5" width="3.78" height="14.85" fill="#8a8a8a"/>
<line x1="307.2" y1="271.1" x2="307.2" y2="286.35" stroke="#b8b8b8" stroke-width="0.9"/>
<line x1="305.01" y1="286.35" x2="309.39" y2="286.35" stroke="#7a7a7a" stroke-width="0.8"/>
<line x1="307.2" y1="255.51" x2="307.2" y2="271.1" stroke="#8a8a8a" stroke-width="1.15"/>
<line x1="305.3" y1="255.51" x2="309.1" y2="255.51" stroke="#767676" stroke-width="1.1"/>
<text transform="translate(318.1,335.4) rotate(-90)" font-size="7.5" text-anchor="end" fill="#383838">48</text>
<rect x="312.81" y="276.52" width="5.58" height="53.88" fill="#a6a6a6" stroke="#4a4a4a" stroke-width="0.8"/>
<rect x="313.71" y="276.92" width="3.78" height="13.49" fill="#8a8a8a"/>
<line x1="315.6" y1="276.52" x2="315.6" y2="290.41" stroke="#b8b8b8" stroke-width="0.9"/>
<line x1="313.41" y1="290.41" x2="317.79" y2="290.41" stroke="#7a7a7a" stroke-width="0.8"/>
<line x1="315.6" y1="262.63" x2="315.6" y2="276.52" stroke="#8a8a8a" stroke-width="1.15"/>
<line x1="313.7" y1="262.63" x2="317.5" y2="262.63" stroke="#767676" stroke-width="1.1"/>
<text transform="translate(326.5,335.4) rotate(-90)" font-size="7.5" text-anchor="end" fill="#383838">72</text>
<rect x="321.21" y="248.74" width="5.58" height="81.66" fill="#a6a6a6" stroke="#4a4a4a" stroke-width="0.8"/>
<rect x="322.11" y="249.14" width="3.78" height="16.2" fill="#8a8a8a"/>
<line x1="324" y1="248.74" x2="324" y2="265.34" stroke="#b8b8b8" stroke-width="0.9"/>
<line x1="321.81" y1="265.34" x2="326.19" y2="265.34" stroke="#7a7a7a" stroke-width="0.8"/>
<line x1="324" y1="232.13" x2="324" y2="248.74" stroke="#8a8a8a" stroke-width="1.15"/>
<line x1="322.1" y1="232.13" x2="325.9" y2="232.13" stroke="#767676" stroke-width="1.1"/>
<text x="324" y="231.22" font-size="7.8" text-anchor="middle" fill="#303030" font-weight="bold">*</text>
<line x1="261" y1="211.8" x2="261" y2="330.4" stroke="#666666" stroke-width="1"/>
<line x1="261" y1="330.4" x2="328.2" y2="330.4" stroke="#6a6a6a" stroke-width="0.9"/>
<line x1="266.2" y1="217.4" x2="324.1" y2="217.4" stroke="#9a9a9a" stroke-width="1"/>
<text x="295.5" y="216.03" font-size="8.6" text-anchor="middle" fill="#303030" font-weight="bold">‡</text>
<text transform="translate(242.5,271.1) rotate(-90)" font-size="8.5" text-anchor="middle" fill="#383838">conc. [µg/ml]</text>
<text x="294" y="353.5" font-size="8.5" text-anchor="middle" fill="#383838">time [h]</text>
<text x="370.2" y="333.1" font-size="7.5" text-anchor="end" fill="#383838">0.0</text>
<text x="370.2" y="313.33" font-size="7.5" text-anchor="end" fill="#383838">0.2</text>
<text x="370.2" y="293.57" font-size="7.5" text-anchor="end" fill="#383838">0.4</text>
<text x="370.2" y="273.8" font-size="7.5" text-anchor="end" fill="#383838">0.6</text>
<text x="370.2" y="254.03" font-size="7.5" text-anchor="end" fill="#383838">0.8</text>
<text x="370.2" y="234.27" font-size="7.5" text-anchor="end" fill="#383838">1.0</text>
<text x="370.2" y="214.5" font-size="7.5" text-anchor="end" fill="#383838">1.2</text>
<text transform="translate(382.64,335.4) rotate(-90)" font-size="7.5" text-anchor="end" fill="#383838">0</text>
<rect x="377.39" y="275.75" width="5.49" height="54.65" fill="#a6a6a6" stroke="#4a4a4a" stroke-width="0.8"/>
<rect x="378.29" y="276.15" width="3.69" height="16.9" fill="#8a8a8a"/>
<line x1="380.14" y1="275.75" x2="380.14" y2="293.04" stroke="#b8b8b8" stroke-width="0.9"/>
<line x1="377.99" y1="293.04" x2="382.28" y2="293.04" stroke="#7a7a7a" stroke-width="0.8"/>
<line x1="380.14" y1="258.45" x2="380.14" y2="275.75" stroke="#8a8a8a" stroke-width="1.15"/>
<line x1="378.24" y1="258.45" x2="382.04" y2="258.45" stroke="#767676" stroke-width="1.1"/>
<text transform="translate(390.91,335.4) rotate(-90)" font-size="7.5" text-anchor="end" fill="#383838">2</text>
<rect x="385.67" y="285.92" width="5.49" height="44.48" fill="#a6a6a6" stroke="#4a4a4a" stroke-width="0.8"/>
<rect x="386.57" y="286.32" width="3.69" height="14.62" fill="#8a8a8a"/>
<line x1="388.41" y1="285.92" x2="388.41" y2="300.95" stroke="#b8b8b8" stroke-width="0.9"/>
<line x1="386.27" y1="300.95" x2="390.56" y2="300.95" stroke="#7a7a7a" stroke-width="0.8"/>
<line x1="388.41" y1="270.8" x2="388.41" y2="285.92" stroke="#8a8a8a" stroke-width="1.15"/>
<line x1="386.51" y1="270.8" x2="390.31" y2="270.8" stroke="#767676" stroke-width="1.1"/>
<text transform="translate(399.19,335.4) rotate(-90)" font-size="7.5" text-anchor="end" fill="#383838">4</text>
<rect x="393.94" y="272.68" width="5.49" height="57.72" fill="#a6a6a6" stroke="#4a4a4a" stroke-width="0.8"/>
<rect x="394.84" y="273.08" width="3.69" height="15.61" fill="#8a8a8a"/>
<line x1="396.69" y1="272.68" x2="396.69" y2="288.69" stroke="#b8b8b8" stroke-width="0.9"/>
<line x1="394.54" y1="288.69" x2="398.83" y2="288.69" stroke="#7a7a7a" stroke-width="0.8"/>
<line x1="396.69" y1="256.77" x2="396.69" y2="272.68" stroke="#8a8a8a" stroke-width="1.15"/>
<line x1="394.79" y1="256.77" x2="398.59" y2="256.77" stroke="#767676" stroke-width="1.1"/>
<text transform="translate(407.46,335.4) rotate(-90)" font-size="7.5" text-anchor="end" fill="#383838">6</text>
<rect x="402.22" y="278.12" width="5.49" height="52.28" fill="#a6a6a6" stroke="#4a4a4a" stroke-width="0.8"/>
<rect x="403.12" y="278.52" width="3.69" height="10.18" fill="#8a8a8a"/>
<line x1="404.96" y1="278.12" x2="404.96" y2="288.69" stroke="#b8b8b8" stroke-width="0.9"/>
<line x1="402.82" y1="288.69" x2="407.11" y2="288.69" stroke="#7a7a7a" stroke-width="0.8"/>
<line x1="404.96" y1="267.54" x2="404.96" y2="278.12" stroke="#8a8a8a" stroke-width="1.15"/>
<line x1="403.06" y1="267.54" x2="406.86" y2="267.54" stroke="#767676" stroke-width="1.1"/>
<text transform="translate(415.74,335.4) rotate(-90)" font-size="7.5" text-anchor="end" fill="#383838">8</text>
<rect x="410.49" y="262.9" width="5.49" height="67.5" fill="#a6a6a6" stroke="#4a4a4a" stroke-width="0.8"/>
<rect x="411.39" y="263.3" width="3.69" height="10.37" fill="#8a8a8a"/>
<line x1="413.24" y1="262.9" x2="413.24" y2="273.67" stroke="#b8b8b8" stroke-width="0.9"/>
<line x1="411.09" y1="273.67" x2="415.38" y2="273.67" stroke="#7a7a7a" stroke-width="0.8"/>
<line x1="413.24" y1="252.32" x2="413.24" y2="262.9" stroke="#8a8a8a" stroke-width="1.15"/>
<line x1="411.34" y1="252.32" x2="415.14" y2="252.32" stroke="#767676" stroke-width="1.1"/>
<text transform="translate(424.01,335.4) rotate(-90)" font-size="7.5" text-anchor="end" fill="#383838">24</text>
<rect x="418.77" y="262.9" width="5.49" height="67.5" fill="#a6a6a6" stroke="#4a4a4a" stroke-width="0.8"/>
<rect x="419.67" y="263.3" width="3.69" height="14.33" fill="#8a8a8a"/>
<line x1="421.51" y1="262.9" x2="421.51" y2="277.62" stroke="#b8b8b8" stroke-width="0.9"/>
<line x1="419.37" y1="277.62" x2="423.66" y2="277.62" stroke="#7a7a7a" stroke-width="0.8"/>
<line x1="421.51" y1="247.38" x2="421.51" y2="262.9" stroke="#8a8a8a" stroke-width="1.15"/>
<line x1="419.61" y1="247.38" x2="423.41" y2="247.38" stroke="#767676" stroke-width="1.1"/>
<text transform="translate(432.29,335.4) rotate(-90)" font-size="7.5" text-anchor="end" fill="#383838">48</text>
<rect x="427.04" y="259.24" width="5.49" height="71.16" fill="#a6a6a6" stroke="#4a4a4a" stroke-width="0.8"/>
<rect x="427.94" y="259.64" width="3.69" height="13.54" fill="#8a8a8a"/>
<line x1="429.79" y1="259.24" x2="429.79" y2="273.18" stroke="#b8b8b8" stroke-width="0.9"/>
<line x1="427.64" y1="273.18" x2="431.93" y2="273.18" stroke="#7a7a7a" stroke-width="0.8"/>
<line x1="429.79" y1="245.7" x2="429.79" y2="259.24" stroke="#8a8a8a" stroke-width="1.15"/>
<line x1="427.89" y1="245.7" x2="431.69" y2="245.7" stroke="#767676" stroke-width="1.1"/>
<text transform="translate(440.56,335.4) rotate(-90)" font-size="7.5" text-anchor="end" fill="#383838">72</text>
<rect x="435.32" y="246.19" width="5.49" height="84.21" fill="#a6a6a6" stroke="#4a4a4a" stroke-width="0.8"/>
<rect x="436.22" y="246.59" width="3.69" height="15.61" fill="#8a8a8a"/>
<line x1="438.06" y1="246.19" x2="438.06" y2="262.2" stroke="#b8b8b8" stroke-width="0.9"/>
<line x1="435.92" y1="262.2" x2="440.21" y2="262.2" stroke="#7a7a7a" stroke-width="0.8"/>
<line x1="438.06" y1="231.57" x2="438.06" y2="246.19" stroke="#8a8a8a" stroke-width="1.15"/>
<line x1="436.16" y1="231.57" x2="439.96" y2="231.57" stroke="#767676" stroke-width="1.1"/>
<text x="438.06" y="230.72" font-size="7.8" text-anchor="middle" fill="#303030" font-weight="bold">*</text>
<line x1="376.5" y1="211.8" x2="376.5" y2="330.4" stroke="#666666" stroke-width="1"/>
<line x1="376" y1="330.4" x2="442.2" y2="330.4" stroke="#6a6a6a" stroke-width="0.9"/>
<line x1="382" y1="217.4" x2="440.2" y2="217.4" stroke="#9a9a9a" stroke-width="1"/>
<text x="411.6" y="216.03" font-size="8.6" text-anchor="middle" fill="#303030" font-weight="bold">‡</text>
<text transform="translate(355.9,271.1) rotate(-90)" font-size="8.5" text-anchor="middle" fill="#383838">rel. conc. [%]</text>
<text x="409.2" y="353.5" font-size="8.5" text-anchor="middle" fill="#383838">time [h]</text>
<text x="22.2" y="525" font-size="7.5" text-anchor="end" fill="#383838">0</text>
<text x="22.2" y="506.53" font-size="7.5" text-anchor="end" fill="#383838">10</text>
<text x="22.2" y="488.06" font-size="7.5" text-anchor="end" fill="#383838">20</text>
<text x="22.2" y="469.59" font-size="7.5" text-anchor="end" fill="#383838">30</text>
<text x="22.2" y="451.11" font-size="7.5" text-anchor="end" fill="#383838">40</text>
<text x="22.2" y="432.64" font-size="7.5" text-anchor="end" fill="#383838">50</text>
<text x="22.2" y="414.17" font-size="7.5" text-anchor="end" fill="#383838">60</text>
<text x="22.2" y="395.7" font-size="7.5" text-anchor="end" fill="#383838">70</text>
<text transform="translate(34.91,527.3) rotate(-90)" font-size="7.5" text-anchor="end" fill="#383838">0</text>
<rect x="29.46" y="447.86" width="5.91" height="74.44" fill="#a6a6a6" stroke="#4a4a4a" stroke-width="0.8"/>
<rect x="30.36" y="448.26" width="4.11" height="23.06" fill="#8a8a8a"/>
<line x1="32.41" y1="447.86" x2="32.41" y2="471.32" stroke="#b8b8b8" stroke-width="0.9"/>
<line x1="30.06" y1="471.32" x2="34.77" y2="471.32" stroke="#7a7a7a" stroke-width="0.8"/>
<line x1="32.41" y1="424.59" x2="32.41" y2="447.86" stroke="#8a8a8a" stroke-width="1.15"/>
<line x1="30.51" y1="424.59" x2="34.31" y2="424.59" stroke="#767676" stroke-width="1.1"/>
<text transform="translate(43.74,527.3) rotate(-90)" font-size="7.5" text-anchor="end" fill="#383838">2</text>
<rect x="38.28" y="448.41" width="5.91" height="73.89" fill="#a6a6a6" stroke="#4a4a4a" stroke-width="0.8"/>
<rect x="39.18" y="448.81" width="4.11" height="28.23" fill="#8a8a8a"/>
<line x1="41.24" y1="448.41" x2="41.24" y2="477.04" stroke="#b8b8b8" stroke-width="0.9"/>
<line x1="38.88" y1="477.04" x2="43.59" y2="477.04" stroke="#7a7a7a" stroke-width="0.8"/>
<line x1="41.24" y1="421.26" x2="41.24" y2="448.41" stroke="#8a8a8a" stroke-width="1.15"/>
<line x1="39.34" y1="421.26" x2="43.14" y2="421.26" stroke="#767676" stroke-width="1.1"/>
<text transform="translate(52.56,527.3) rotate(-90)" font-size="7.5" text-anchor="end" fill="#383838">4</text>
<rect x="47.11" y="438.44" width="5.91" height="83.86" fill="#a6a6a6" stroke="#4a4a4a" stroke-width="0.8"/>
<rect x="48.01" y="438.84" width="4.11" height="30.82" fill="#8a8a8a"/>
<line x1="50.06" y1="438.44" x2="50.06" y2="469.66" stroke="#b8b8b8" stroke-width="0.9"/>
<line x1="47.71" y1="469.66" x2="52.42" y2="469.66" stroke="#7a7a7a" stroke-width="0.8"/>
<line x1="50.06" y1="408.52" x2="50.06" y2="438.44" stroke="#8a8a8a" stroke-width="1.15"/>
<line x1="48.16" y1="408.52" x2="51.96" y2="408.52" stroke="#767676" stroke-width="1.1"/>
<text transform="translate(61.39,527.3) rotate(-90)" font-size="7.5" text-anchor="end" fill="#383838">6</text>
<rect x="55.93" y="443.43" width="5.91" height="78.87" fill="#a6a6a6" stroke="#4a4a4a" stroke-width="0.8"/>
<rect x="56.83" y="443.83" width="4.11" height="25.83" fill="#8a8a8a"/>
<line x1="58.89" y1="443.43" x2="58.89" y2="469.66" stroke="#b8b8b8" stroke-width="0.9"/>
<line x1="56.53" y1="469.66" x2="61.24" y2="469.66" stroke="#7a7a7a" stroke-width="0.8"/>
<line x1="58.89" y1="417.2" x2="58.89" y2="443.43" stroke="#8a8a8a" stroke-width="1.15"/>
<line x1="56.99" y1="417.2" x2="60.79" y2="417.2" stroke="#767676" stroke-width="1.1"/>
<text transform="translate(70.21,527.3) rotate(-90)" font-size="7.5" text-anchor="end" fill="#383838">8</text>
<rect x="64.76" y="433.27" width="5.91" height="89.03" fill="#a6a6a6" stroke="#4a4a4a" stroke-width="0.8"/>
<rect x="65.66" y="433.67" width="4.11" height="27.86" fill="#8a8a8a"/>
<line x1="67.71" y1="433.27" x2="67.71" y2="461.53" stroke="#b8b8b8" stroke-width="0.9"/>
<line x1="65.36" y1="461.53" x2="70.07" y2="461.53" stroke="#7a7a7a" stroke-width="0.8"/>
<line x1="67.71" y1="404.82" x2="67.71" y2="433.27" stroke="#8a8a8a" stroke-width="1.15"/>
<line x1="65.81" y1="404.82" x2="69.61" y2="404.82" stroke="#767676" stroke-width="1.1"/>
<text x="67.71" y="401.39" font-size="6.4" text-anchor="middle" fill="#202020" stroke="none">#</text>
<text transform="translate(79.04,527.3) rotate(-90)" font-size="7.5" text-anchor="end" fill="#383838">24</text>
<rect x="73.58" y="449.71" width="5.91" height="72.59" fill="#a6a6a6" stroke="#4a4a4a" stroke-width="0.8"/>
<rect x="74.48" y="450.11" width="4.11" height="21.77" fill="#8a8a8a"/>
<line x1="76.54" y1="449.71" x2="76.54" y2="471.87" stroke="#b8b8b8" stroke-width="0.9"/>
<line x1="74.18" y1="471.87" x2="78.89" y2="471.87" stroke="#7a7a7a" stroke-width="0.8"/>
<line x1="76.54" y1="427.36" x2="76.54" y2="449.71" stroke="#8a8a8a" stroke-width="1.15"/>
<line x1="74.64" y1="427.36" x2="78.44" y2="427.36" stroke="#767676" stroke-width="1.1"/>
<text transform="translate(87.86,527.3) rotate(-90)" font-size="7.5" text-anchor="end" fill="#383838">48</text>
<rect x="82.41" y="461.34" width="5.91" height="60.96" fill="#a6a6a6" stroke="#4a4a4a" stroke-width="0.8"/>
<rect x="83.31" y="461.74" width="4.11" height="18.26" fill="#8a8a8a"/>
<line x1="85.36" y1="461.34" x2="85.36" y2="480" stroke="#b8b8b8" stroke-width="0.9"/>
<line x1="83.01" y1="480" x2="87.72" y2="480" stroke="#7a7a7a" stroke-width="0.8"/>
<line x1="85.36" y1="442.87" x2="85.36" y2="461.34" stroke="#8a8a8a" stroke-width="1.15"/>
<line x1="83.46" y1="442.87" x2="87.26" y2="442.87" stroke="#767676" stroke-width="1.1"/>
<text x="85.36" y="437.59" font-size="6.4" text-anchor="middle" fill="#202020" stroke="none">#</text>
<text transform="translate(96.69,527.3) rotate(-90)" font-size="7.5" text-anchor="end" fill="#383838">72</text>
<rect x="91.23" y="431.79" width="5.91" height="90.51" fill="#a6a6a6" stroke="#4a4a4a" stroke-width="0.8"/>
<rect x="92.13" y="432.19" width="4.11" height="25.09" fill="#8a8a8a"/>
<line x1="94.19" y1="431.79" x2="94.19" y2="457.28" stroke="#b8b8b8" stroke-width="0.9"/>
<line x1="91.83" y1="457.28" x2="96.54" y2="457.28" stroke="#7a7a7a" stroke-width="0.8"/>
<line x1="94.19" y1="407.78" x2="94.19" y2="431.79" stroke="#8a8a8a" stroke-width="1.15"/>
<line x1="92.29" y1="407.78" x2="96.09" y2="407.78" stroke="#767676" stroke-width="1.1"/>
<text x="94.19" y="404.03" font-size="8.6" text-anchor="middle" fill="#303030" font-weight="bold">‡</text>
<line x1="28.5" y1="393" x2="28.5" y2="522.3" stroke="#666666" stroke-width="1"/>
<line x1="28" y1="522.3" x2="98.6" y2="522.3" stroke="#6a6a6a" stroke-width="0.9"/>
<line x1="33.7" y1="389.3" x2="91.7" y2="389.3" stroke="#9a9a9a" stroke-width="1"/>
<text x="64" y="388.83" font-size="8.6" text-anchor="middle" fill="#303030" font-weight="bold">‡</text>
<text transform="translate(10.4,457.65) rotate(-90)" font-size="8.5" text-anchor="middle" fill="#383838">conc. [µg/ml]</text>
<text x="63.1" y="546" font-size="8.5" text-anchor="middle" fill="#383838">time [h]</text>
<text x="140.9" y="525" font-size="7.5" text-anchor="end" fill="#383838">0.0</text>
<text x="140.9" y="512.12" font-size="7.5" text-anchor="end" fill="#383838">0.2</text>
<text x="140.9" y="499.24" font-size="7.5" text-anchor="end" fill="#383838">0.4</text>
<text x="140.9" y="486.36" font-size="7.5" text-anchor="end" fill="#383838">0.6</text>
<text x="140.9" y="473.48" font-size="7.5" text-anchor="end" fill="#383838">0.8</text>
<text x="140.9" y="460.6" font-size="7.5" text-anchor="end" fill="#383838">1.0</text>
<text x="140.9" y="447.72" font-size="7.5" text-anchor="end" fill="#383838">1.2</text>
<text x="140.9" y="434.84" font-size="7.5" text-anchor="end" fill="#383838">1.4</text>
<text x="140.9" y="421.96" font-size="7.5" text-anchor="end" fill="#383838">1.6</text>
<text x="140.9" y="409.08" font-size="7.5" text-anchor="end" fill="#383838">1.8</text>
<text x="140.9" y="396.2" font-size="7.5" text-anchor="end" fill="#383838">2.0</text>
<text transform="translate(153.38,527.3) rotate(-90)" font-size="7.5" text-anchor="end" fill="#383838">0</text>
<rect x="148.1" y="433.23" width="5.56" height="89.07" fill="#a6a6a6" stroke="#4a4a4a" stroke-width="0.8"/>
<rect x="149" y="433.63" width="3.76" height="13.32" fill="#8a8a8a"/>
<line x1="150.88" y1="433.23" x2="150.88" y2="446.95" stroke="#b8b8b8" stroke-width="0.9"/>
<line x1="148.7" y1="446.95" x2="153.06" y2="446.95" stroke="#7a7a7a" stroke-width="0.8"/>
<line x1="150.88" y1="419.9" x2="150.88" y2="433.23" stroke="#8a8a8a" stroke-width="1.15"/>
<line x1="148.98" y1="419.9" x2="152.78" y2="419.9" stroke="#767676" stroke-width="1.1"/>
<text transform="translate(161.74,527.3) rotate(-90)" font-size="7.5" text-anchor="end" fill="#383838">2</text>
<rect x="156.47" y="435.36" width="5.56" height="86.94" fill="#a6a6a6" stroke="#4a4a4a" stroke-width="0.8"/>
<rect x="157.37" y="435.76" width="3.76" height="15.7" fill="#8a8a8a"/>
<line x1="159.24" y1="435.36" x2="159.24" y2="451.46" stroke="#b8b8b8" stroke-width="0.9"/>
<line x1="157.07" y1="451.46" x2="161.42" y2="451.46" stroke="#7a7a7a" stroke-width="0.8"/>
<line x1="159.24" y1="417.33" x2="159.24" y2="435.36" stroke="#8a8a8a" stroke-width="1.15"/>
<line x1="157.34" y1="417.33" x2="161.14" y2="417.33" stroke="#767676" stroke-width="1.1"/>
<text transform="translate(170.11,527.3) rotate(-90)" font-size="7.5" text-anchor="end" fill="#383838">4</text>
<rect x="164.83" y="434.07" width="5.56" height="88.23" fill="#a6a6a6" stroke="#4a4a4a" stroke-width="0.8"/>
<rect x="165.73" y="434.47" width="3.76" height="13.77" fill="#8a8a8a"/>
<line x1="167.61" y1="434.07" x2="167.61" y2="448.24" stroke="#b8b8b8" stroke-width="0.9"/>
<line x1="165.43" y1="448.24" x2="169.78" y2="448.24" stroke="#7a7a7a" stroke-width="0.8"/>
<line x1="167.61" y1="420.55" x2="167.61" y2="434.07" stroke="#8a8a8a" stroke-width="1.15"/>
<line x1="165.71" y1="420.55" x2="169.51" y2="420.55" stroke="#767676" stroke-width="1.1"/>
<text transform="translate(178.47,527.3) rotate(-90)" font-size="7.5" text-anchor="end" fill="#383838">6</text>
<rect x="173.19" y="445.66" width="5.56" height="76.64" fill="#a6a6a6" stroke="#4a4a4a" stroke-width="0.8"/>
<rect x="174.09" y="446.06" width="3.76" height="11.84" fill="#8a8a8a"/>
<line x1="175.97" y1="445.66" x2="175.97" y2="457.9" stroke="#b8b8b8" stroke-width="0.9"/>
<line x1="173.79" y1="457.9" x2="178.15" y2="457.9" stroke="#7a7a7a" stroke-width="0.8"/>
<line x1="175.97" y1="435.36" x2="175.97" y2="445.66" stroke="#8a8a8a" stroke-width="1.15"/>
<line x1="174.07" y1="435.36" x2="177.87" y2="435.36" stroke="#767676" stroke-width="1.1"/>
<text transform="translate(186.83,527.3) rotate(-90)" font-size="7.5" text-anchor="end" fill="#383838">8</text>
<rect x="181.55" y="425.38" width="5.56" height="96.92" fill="#a6a6a6" stroke="#4a4a4a" stroke-width="0.8"/>
<rect x="182.45" y="425.78" width="3.76" height="15.06" fill="#8a8a8a"/>
<line x1="184.33" y1="425.38" x2="184.33" y2="440.83" stroke="#b8b8b8" stroke-width="0.9"/>
<line x1="182.15" y1="440.83" x2="186.51" y2="440.83" stroke="#7a7a7a" stroke-width="0.8"/>
<line x1="184.33" y1="410.24" x2="184.33" y2="425.38" stroke="#8a8a8a" stroke-width="1.15"/>
<line x1="182.43" y1="410.24" x2="186.23" y2="410.24" stroke="#767676" stroke-width="1.1"/>
<text transform="translate(195.19,527.3) rotate(-90)" font-size="7.5" text-anchor="end" fill="#383838">24</text>
<rect x="189.92" y="425.06" width="5.56" height="97.24" fill="#a6a6a6" stroke="#4a4a4a" stroke-width="0.8"/>
<rect x="190.82" y="425.46" width="3.76" height="14.73" fill="#8a8a8a"/>
<line x1="192.69" y1="425.06" x2="192.69" y2="440.19" stroke="#b8b8b8" stroke-width="0.9"/>
<line x1="190.52" y1="440.19" x2="194.87" y2="440.19" stroke="#7a7a7a" stroke-width="0.8"/>
<line x1="192.69" y1="410.89" x2="192.69" y2="425.06" stroke="#8a8a8a" stroke-width="1.15"/>
<line x1="190.79" y1="410.89" x2="194.59" y2="410.89" stroke="#767676" stroke-width="1.1"/>
<text transform="translate(203.56,527.3) rotate(-90)" font-size="7.5" text-anchor="end" fill="#383838">48</text>
<rect x="198.28" y="426.6" width="5.56" height="95.7" fill="#a6a6a6" stroke="#4a4a4a" stroke-width="0.8"/>
<rect x="199.18" y="427" width="3.76" height="13.19" fill="#8a8a8a"/>
<line x1="201.06" y1="426.6" x2="201.06" y2="440.19" stroke="#b8b8b8" stroke-width="0.9"/>
<line x1="198.88" y1="440.19" x2="203.23" y2="440.19" stroke="#7a7a7a" stroke-width="0.8"/>
<line x1="201.06" y1="413.46" x2="201.06" y2="426.6" stroke="#8a8a8a" stroke-width="1.15"/>
<line x1="199.16" y1="413.46" x2="202.96" y2="413.46" stroke="#767676" stroke-width="1.1"/>
<text transform="translate(211.92,527.3) rotate(-90)" font-size="7.5" text-anchor="end" fill="#383838">72</text>
<rect x="206.64" y="414.37" width="5.56" height="107.93" fill="#a6a6a6" stroke="#4a4a4a" stroke-width="0.8"/>
<rect x="207.54" y="414.77" width="3.76" height="14.35" fill="#8a8a8a"/>
<line x1="209.42" y1="414.37" x2="209.42" y2="429.11" stroke="#b8b8b8" stroke-width="0.9"/>
<line x1="207.24" y1="429.11" x2="211.6" y2="429.11" stroke="#7a7a7a" stroke-width="0.8"/>
<line x1="209.42" y1="400.58" x2="209.42" y2="414.37" stroke="#8a8a8a" stroke-width="1.15"/>
<line x1="207.52" y1="400.58" x2="211.32" y2="400.58" stroke="#767676" stroke-width="1.1"/>
<text x="209.42" y="399.52" font-size="7.8" text-anchor="middle" fill="#303030" font-weight="bold">*</text>
<line x1="147" y1="393.5" x2="147" y2="522.3" stroke="#666666" stroke-width="1"/>
<line x1="146.7" y1="522.3" x2="213.6" y2="522.3" stroke="#6a6a6a" stroke-width="0.9"/>
<line x1="151.7" y1="390.2" x2="209.1" y2="390.2" stroke="#9a9a9a" stroke-width="1"/>
<text x="179.8" y="389.83" font-size="8.6" text-anchor="middle" fill="#303030" font-weight="bold">‡</text>
<text transform="translate(126.7,457.9) rotate(-90)" font-size="8.5" text-anchor="middle" fill="#383838">rel. conc. [%]</text>
<text x="179.8" y="546" font-size="8.5" text-anchor="middle" fill="#383838">time [h]</text>
<text x="258.2" y="525" font-size="7.5" text-anchor="end" fill="#383838">0</text>
<text x="258.2" y="508.85" font-size="7.5" text-anchor="end" fill="#383838">50</text>
<text x="258.2" y="492.7" font-size="7.5" text-anchor="end" fill="#383838">100</text>
<text x="258.2" y="476.55" font-size="7.5" text-anchor="end" fill="#383838">150</text>
<text x="258.2" y="460.4" font-size="7.5" text-anchor="end" fill="#383838">200</text>
<text x="258.2" y="444.25" font-size="7.5" text-anchor="end" fill="#383838">250</text>
<text x="258.2" y="428.1" font-size="7.5" text-anchor="end" fill="#383838">300</text>
<text x="258.2" y="411.95" font-size="7.5" text-anchor="end" fill="#383838">350</text>
<text x="258.2" y="395.8" font-size="7.5" text-anchor="end" fill="#383838">400</text>
<text transform="translate(270.64,527.3) rotate(-90)" font-size="7.5" text-anchor="end" fill="#383838">0</text>
<rect x="265.39" y="493.55" width="5.49" height="28.75" fill="#a6a6a6" stroke="#4a4a4a" stroke-width="0.8"/>
<rect x="266.29" y="493.95" width="3.69" height="8.97" fill="#8a8a8a"/>
<line x1="268.14" y1="493.55" x2="268.14" y2="502.92" stroke="#b8b8b8" stroke-width="0.9"/>
<line x1="265.99" y1="502.92" x2="270.28" y2="502.92" stroke="#7a7a7a" stroke-width="0.8"/>
<line x1="268.14" y1="483.86" x2="268.14" y2="493.55" stroke="#8a8a8a" stroke-width="1.15"/>
<line x1="266.24" y1="483.86" x2="270.04" y2="483.86" stroke="#767676" stroke-width="1.1"/>
<text transform="translate(278.91,527.3) rotate(-90)" font-size="7.5" text-anchor="end" fill="#383838">2</text>
<rect x="273.67" y="481.28" width="5.49" height="41.02" fill="#a6a6a6" stroke="#4a4a4a" stroke-width="0.8"/>
<rect x="274.57" y="481.68" width="3.69" height="16.72" fill="#8a8a8a"/>
<line x1="276.41" y1="481.28" x2="276.41" y2="498.4" stroke="#b8b8b8" stroke-width="0.9"/>
<line x1="274.27" y1="498.4" x2="278.56" y2="498.4" stroke="#7a7a7a" stroke-width="0.8"/>
<line x1="276.41" y1="462.87" x2="276.41" y2="481.28" stroke="#8a8a8a" stroke-width="1.15"/>
<line x1="274.51" y1="462.87" x2="278.31" y2="462.87" stroke="#767676" stroke-width="1.1"/>
<text transform="translate(287.19,527.3) rotate(-90)" font-size="7.5" text-anchor="end" fill="#383838">4</text>
<rect x="281.94" y="464.16" width="5.49" height="58.14" fill="#a6a6a6" stroke="#4a4a4a" stroke-width="0.8"/>
<rect x="282.84" y="464.56" width="3.69" height="29.32" fill="#8a8a8a"/>
<line x1="284.69" y1="464.16" x2="284.69" y2="493.88" stroke="#b8b8b8" stroke-width="0.9"/>
<line x1="282.54" y1="493.88" x2="286.83" y2="493.88" stroke="#7a7a7a" stroke-width="0.8"/>
<line x1="284.69" y1="435.09" x2="284.69" y2="464.16" stroke="#8a8a8a" stroke-width="1.15"/>
<line x1="282.79" y1="435.09" x2="286.59" y2="435.09" stroke="#767676" stroke-width="1.1"/>
<text transform="translate(295.46,527.3) rotate(-90)" font-size="7.5" text-anchor="end" fill="#383838">6</text>
<rect x="290.22" y="439.29" width="5.49" height="83.01" fill="#a6a6a6" stroke="#4a4a4a" stroke-width="0.8"/>
<rect x="291.12" y="439.69" width="3.69" height="37.39" fill="#8a8a8a"/>
<line x1="292.96" y1="439.29" x2="292.96" y2="477.08" stroke="#b8b8b8" stroke-width="0.9"/>
<line x1="290.82" y1="477.08" x2="295.11" y2="477.08" stroke="#7a7a7a" stroke-width="0.8"/>
<line x1="292.96" y1="402.14" x2="292.96" y2="439.29" stroke="#8a8a8a" stroke-width="1.15"/>
<line x1="291.06" y1="402.14" x2="294.86" y2="402.14" stroke="#767676" stroke-width="1.1"/>
<text x="292.96" y="401.42" font-size="7.8" text-anchor="middle" fill="#303030" font-weight="bold">*</text>
<text transform="translate(303.74,527.3) rotate(-90)" font-size="7.5" text-anchor="end" fill="#383838">8</text>
<rect x="298.49" y="459.31" width="5.49" height="62.98" fill="#a6a6a6" stroke="#4a4a4a" stroke-width="0.8"/>
<rect x="299.39" y="459.71" width="3.69" height="21.89" fill="#8a8a8a"/>
<line x1="301.24" y1="459.31" x2="301.24" y2="481.6" stroke="#b8b8b8" stroke-width="0.9"/>
<line x1="299.09" y1="481.6" x2="303.38" y2="481.6" stroke="#7a7a7a" stroke-width="0.8"/>
<line x1="301.24" y1="438.64" x2="301.24" y2="459.31" stroke="#8a8a8a" stroke-width="1.15"/>
<line x1="299.34" y1="438.64" x2="303.14" y2="438.64" stroke="#767676" stroke-width="1.1"/>
<text x="301.24" y="435.73" font-size="8.6" text-anchor="middle" fill="#303030" font-weight="bold">‡</text>
<text transform="translate(312.01,527.3) rotate(-90)" font-size="7.5" text-anchor="end" fill="#383838">24</text>
<rect x="306.77" y="483.86" width="5.49" height="38.44" fill="#a6a6a6" stroke="#4a4a4a" stroke-width="0.8"/>
<rect x="307.67" y="484.26" width="3.69" height="10.58" fill="#8a8a8a"/>
<line x1="309.51" y1="483.86" x2="309.51" y2="494.84" stroke="#b8b8b8" stroke-width="0.9"/>
<line x1="307.37" y1="494.84" x2="311.66" y2="494.84" stroke="#7a7a7a" stroke-width="0.8"/>
<line x1="309.51" y1="472.56" x2="309.51" y2="483.86" stroke="#8a8a8a" stroke-width="1.15"/>
<line x1="307.61" y1="472.56" x2="311.41" y2="472.56" stroke="#767676" stroke-width="1.1"/>
<text x="309.51" y="468.49" font-size="6.4" text-anchor="middle" fill="#202020" stroke="none">#</text>
<text transform="translate(320.29,527.3) rotate(-90)" font-size="7.5" text-anchor="end" fill="#383838">48</text>
<rect x="315.04" y="493.71" width="5.49" height="28.59" fill="#a6a6a6" stroke="#4a4a4a" stroke-width="0.8"/>
<rect x="315.94" y="494.11" width="3.69" height="7.84" fill="#8a8a8a"/>
<line x1="317.79" y1="493.71" x2="317.79" y2="501.95" stroke="#b8b8b8" stroke-width="0.9"/>
<line x1="315.64" y1="501.95" x2="319.93" y2="501.95" stroke="#7a7a7a" stroke-width="0.8"/>
<line x1="317.79" y1="485.48" x2="317.79" y2="493.71" stroke="#8a8a8a" stroke-width="1.15"/>
<line x1="315.89" y1="485.48" x2="319.69" y2="485.48" stroke="#767676" stroke-width="1.1"/>
<text transform="translate(328.56,527.3) rotate(-90)" font-size="7.5" text-anchor="end" fill="#383838">72</text>
<rect x="323.32" y="481.92" width="5.49" height="40.38" fill="#a6a6a6" stroke="#4a4a4a" stroke-width="0.8"/>
<rect x="324.22" y="482.32" width="3.69" height="10.26" fill="#8a8a8a"/>
<line x1="326.06" y1="481.92" x2="326.06" y2="492.58" stroke="#b8b8b8" stroke-width="0.9"/>
<line x1="323.92" y1="492.58" x2="328.21" y2="492.58" stroke="#7a7a7a" stroke-width="0.8"/>
<line x1="326.06" y1="471.59" x2="326.06" y2="481.92" stroke="#8a8a8a" stroke-width="1.15"/>
<line x1="324.16" y1="471.59" x2="327.96" y2="471.59" stroke="#767676" stroke-width="1.1"/>
<text x="326.06" y="467.93" font-size="8.6" text-anchor="middle" fill="#303030" font-weight="bold">‡</text>
<line x1="264.5" y1="393.1" x2="264.5" y2="522.3" stroke="#666666" stroke-width="1"/>
<line x1="264" y1="522.3" x2="330.2" y2="522.3" stroke="#6a6a6a" stroke-width="0.9"/>
<line x1="270" y1="389.6" x2="328.2" y2="389.6" stroke="#9a9a9a" stroke-width="1"/>
<text x="296.5" y="386.83" font-size="8.6" text-anchor="middle" fill="#303030" font-weight="bold">‡</text>
<text transform="translate(241.8,457.7) rotate(-90)" font-size="8.5" text-anchor="middle" fill="#383838">conc. [µg/ml]</text>
<text x="297.2" y="546.5" font-size="8.5" text-anchor="middle" fill="#383838">time [h]</text>
<text x="370.1" y="525" font-size="7.5" text-anchor="end" fill="#383838">0</text>
<text x="370.1" y="512.08" font-size="7.5" text-anchor="end" fill="#383838">1</text>
<text x="370.1" y="499.16" font-size="7.5" text-anchor="end" fill="#383838">2</text>
<text x="370.1" y="486.24" font-size="7.5" text-anchor="end" fill="#383838">3</text>
<text x="370.1" y="473.32" font-size="7.5" text-anchor="end" fill="#383838">4</text>
<text x="370.1" y="460.4" font-size="7.5" text-anchor="end" fill="#383838">5</text>
<text x="370.1" y="447.48" font-size="7.5" text-anchor="end" fill="#383838">6</text>
<text x="370.1" y="434.56" font-size="7.5" text-anchor="end" fill="#383838">7</text>
<text x="370.1" y="421.64" font-size="7.5" text-anchor="end" fill="#383838">8</text>
<text x="370.1" y="408.72" font-size="7.5" text-anchor="end" fill="#383838">9</text>
<text x="370.1" y="395.8" font-size="7.5" text-anchor="end" fill="#383838">10</text>
<text transform="translate(382.82,527.3) rotate(-90)" font-size="7.5" text-anchor="end" fill="#383838">0</text>
<rect x="377.36" y="482.51" width="5.92" height="39.79" fill="#a6a6a6" stroke="#4a4a4a" stroke-width="0.8"/>
<rect x="378.26" y="482.91" width="4.12" height="4.64" fill="#8a8a8a"/>
<line x1="380.32" y1="482.51" x2="380.32" y2="487.55" stroke="#b8b8b8" stroke-width="0.9"/>
<line x1="377.96" y1="487.55" x2="382.68" y2="487.55" stroke="#7a7a7a" stroke-width="0.8"/>
<line x1="380.32" y1="477.6" x2="380.32" y2="482.51" stroke="#8a8a8a" stroke-width="1.15"/>
<line x1="378.42" y1="477.6" x2="382.22" y2="477.6" stroke="#767676" stroke-width="1.1"/>
<text transform="translate(391.66,527.3) rotate(-90)" font-size="7.5" text-anchor="end" fill="#383838">2</text>
<rect x="386.2" y="463.9" width="5.92" height="58.4" fill="#a6a6a6" stroke="#4a4a4a" stroke-width="0.8"/>
<rect x="387.1" y="464.3" width="4.12" height="19.5" fill="#8a8a8a"/>
<line x1="389.16" y1="463.9" x2="389.16" y2="483.8" stroke="#b8b8b8" stroke-width="0.9"/>
<line x1="386.8" y1="483.8" x2="391.51" y2="483.8" stroke="#7a7a7a" stroke-width="0.8"/>
<line x1="389.16" y1="444.78" x2="389.16" y2="463.9" stroke="#8a8a8a" stroke-width="1.15"/>
<line x1="387.26" y1="444.78" x2="391.06" y2="444.78" stroke="#767676" stroke-width="1.1"/>
<text transform="translate(400.49,527.3) rotate(-90)" font-size="7.5" text-anchor="end" fill="#383838">4</text>
<rect x="395.04" y="450.46" width="5.92" height="71.84" fill="#a6a6a6" stroke="#4a4a4a" stroke-width="0.8"/>
<rect x="395.94" y="450.86" width="4.12" height="29.83" fill="#8a8a8a"/>
<line x1="397.99" y1="450.46" x2="397.99" y2="480.7" stroke="#b8b8b8" stroke-width="0.9"/>
<line x1="395.64" y1="480.7" x2="400.35" y2="480.7" stroke="#7a7a7a" stroke-width="0.8"/>
<line x1="397.99" y1="420.23" x2="397.99" y2="450.46" stroke="#8a8a8a" stroke-width="1.15"/>
<line x1="396.09" y1="420.23" x2="399.89" y2="420.23" stroke="#767676" stroke-width="1.1"/>
<text x="397.99" y="416.93" font-size="8.6" text-anchor="middle" fill="#303030" font-weight="bold">‡</text>
<text transform="translate(409.33,527.3) rotate(-90)" font-size="7.5" text-anchor="end" fill="#383838">6</text>
<rect x="403.87" y="431.86" width="5.92" height="90.44" fill="#a6a6a6" stroke="#4a4a4a" stroke-width="0.8"/>
<rect x="404.77" y="432.26" width="4.12" height="22.86" fill="#8a8a8a"/>
<line x1="406.83" y1="431.86" x2="406.83" y2="455.12" stroke="#b8b8b8" stroke-width="0.9"/>
<line x1="404.47" y1="455.12" x2="409.19" y2="455.12" stroke="#7a7a7a" stroke-width="0.8"/>
<line x1="406.83" y1="408.6" x2="406.83" y2="431.86" stroke="#8a8a8a" stroke-width="1.15"/>
<line x1="404.93" y1="408.6" x2="408.73" y2="408.6" stroke="#767676" stroke-width="1.1"/>
<text x="406.83" y="404.43" font-size="8.6" text-anchor="middle" fill="#303030" font-weight="bold">‡</text>
<text transform="translate(418.17,527.3) rotate(-90)" font-size="7.5" text-anchor="end" fill="#383838">8</text>
<rect x="412.71" y="443.49" width="5.92" height="78.81" fill="#a6a6a6" stroke="#4a4a4a" stroke-width="0.8"/>
<rect x="413.61" y="443.89" width="4.12" height="13.81" fill="#8a8a8a"/>
<line x1="415.67" y1="443.49" x2="415.67" y2="457.7" stroke="#b8b8b8" stroke-width="0.9"/>
<line x1="413.31" y1="457.7" x2="418.03" y2="457.7" stroke="#7a7a7a" stroke-width="0.8"/>
<line x1="415.67" y1="429.53" x2="415.67" y2="443.49" stroke="#8a8a8a" stroke-width="1.15"/>
<line x1="413.77" y1="429.53" x2="417.57" y2="429.53" stroke="#767676" stroke-width="1.1"/>
<text x="415.67" y="426.53" font-size="8.6" text-anchor="middle" fill="#303030" font-weight="bold">‡</text>
<text transform="translate(427.01,527.3) rotate(-90)" font-size="7.5" text-anchor="end" fill="#383838">24</text>
<rect x="421.55" y="462.61" width="5.92" height="59.69" fill="#a6a6a6" stroke="#4a4a4a" stroke-width="0.8"/>
<rect x="422.45" y="463.01" width="4.12" height="7.87" fill="#8a8a8a"/>
<line x1="424.51" y1="462.61" x2="424.51" y2="470.88" stroke="#b8b8b8" stroke-width="0.9"/>
<line x1="422.15" y1="470.88" x2="426.86" y2="470.88" stroke="#7a7a7a" stroke-width="0.8"/>
<line x1="424.51" y1="451.63" x2="424.51" y2="462.61" stroke="#8a8a8a" stroke-width="1.15"/>
<line x1="422.61" y1="451.63" x2="426.41" y2="451.63" stroke="#767676" stroke-width="1.1"/>
<text x="424.51" y="447.39" font-size="6.4" text-anchor="middle" fill="#202020" stroke="none">#</text>
<text transform="translate(435.84,527.3) rotate(-90)" font-size="7.5" text-anchor="end" fill="#383838">48</text>
<rect x="430.39" y="470.62" width="5.92" height="51.68" fill="#a6a6a6" stroke="#4a4a4a" stroke-width="0.8"/>
<rect x="431.29" y="471.02" width="4.12" height="6.84" fill="#8a8a8a"/>
<line x1="433.34" y1="470.62" x2="433.34" y2="477.86" stroke="#b8b8b8" stroke-width="0.9"/>
<line x1="430.99" y1="477.86" x2="435.7" y2="477.86" stroke="#7a7a7a" stroke-width="0.8"/>
<line x1="433.34" y1="463.13" x2="433.34" y2="470.62" stroke="#8a8a8a" stroke-width="1.15"/>
<line x1="431.44" y1="463.13" x2="435.24" y2="463.13" stroke="#767676" stroke-width="1.1"/>
<text transform="translate(444.68,527.3) rotate(-90)" font-size="7.5" text-anchor="end" fill="#383838">72</text>
<rect x="439.22" y="466.74" width="5.92" height="55.56" fill="#a6a6a6" stroke="#4a4a4a" stroke-width="0.8"/>
<rect x="440.12" y="467.14" width="4.12" height="6.96" fill="#8a8a8a"/>
<line x1="442.18" y1="466.74" x2="442.18" y2="474.11" stroke="#b8b8b8" stroke-width="0.9"/>
<line x1="439.82" y1="474.11" x2="444.54" y2="474.11" stroke="#7a7a7a" stroke-width="0.8"/>
<line x1="442.18" y1="459.38" x2="442.18" y2="466.74" stroke="#8a8a8a" stroke-width="1.15"/>
<line x1="440.28" y1="459.38" x2="444.08" y2="459.38" stroke="#767676" stroke-width="1.1"/>
<text x="442.18" y="458.12" font-size="7.8" text-anchor="middle" fill="#303030" font-weight="bold">*</text>
<line x1="376.5" y1="393.1" x2="376.5" y2="522.3" stroke="#666666" stroke-width="1"/>
<line x1="375.9" y1="522.3" x2="446.6" y2="522.3" stroke="#6a6a6a" stroke-width="0.9"/>
<line x1="381" y1="388.9" x2="439" y2="388.9" stroke="#9a9a9a" stroke-width="1"/>
<text x="411.6" y="386.83" font-size="8.6" text-anchor="middle" fill="#303030" font-weight="bold">‡</text>
<text transform="translate(359,457.7) rotate(-90)" font-size="8.5" text-anchor="middle" fill="#383838">rel. conc. [%]</text>
<text x="411.4" y="546.5" font-size="8.5" text-anchor="middle" fill="#383838">time [h]</text>
</svg>
</body></html>
